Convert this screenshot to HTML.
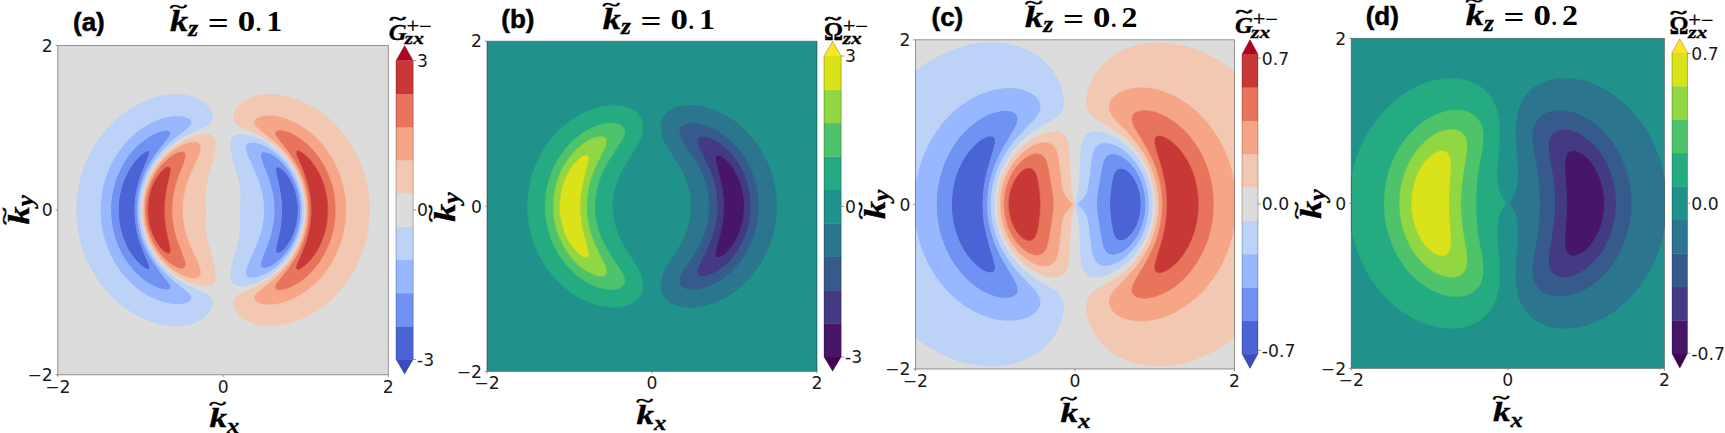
<!DOCTYPE html>
<html><head><meta charset="utf-8"><title>figure</title>
<style>html,body{margin:0;padding:0;background:#fff}svg{display:block}</style></head>
<body>
<svg width="1725" height="433" viewBox="0 0 1725 433">
<rect width="1725" height="433" fill="#fff"/>
<g id="panel-a">
<clipPath id="clip-a"><rect x="57.8" y="45.4" width="330.5" height="329.4"/></clipPath>
<g clip-path="url(#clip-a)">
<rect x="57.8" y="45.4" width="330.5" height="329.4" fill="#dddcdc"/>
<path fill="#4b64d5" stroke="#4b64d5" stroke-width="0.5" fill-rule="evenodd" d="M146.6,269 147.7,269.3 148.7,269.4 149.5,268.8 149.7,267.7 149.5,266.7 148.6,263.6 144.1,253.3 140.9,245.1 138.9,238.9 137.8,234.8 136.7,229.7 135.5,222.5 134.9,215.2 134.7,208 135,202.9 135.6,196.7 136.7,190.5 137.8,185.4 139.9,178.2 142.1,172 148.9,155.5 149.7,152.5 149.5,151.4 148.7,150.8 147.7,150.9 146.6,151.2 144.6,152.2 141.5,154.4 138.4,157.3 135.3,160.7 132.2,164.7 129.4,168.9 127.2,173 125.2,177.2 123.5,181.3 121.8,186.3 120.7,190.5 119.8,194.8 119,199.8 118.6,203.9 118.4,209.1 118.5,214.2 118.8,218.3 119.4,223.5 120.2,227.6 121.5,232.7 122.8,236.9 126,244.7 128,248.8 130.1,252.3 132.2,255.5 135.3,259.5 138.4,262.9 141.5,265.8 144.6,268ZM276.8,253 277.8,253.3 278.8,253.1 280.9,252 283,250.4 285,248.3 287.1,245.7 289.2,242.7 291.2,239.2 293.3,234.8 294.3,232.2 296.4,225.3 297.6,218.3 298.1,211.1 298.1,207 297.8,202.9 296.6,195.7 295.3,191.1 294.3,188 292.2,183.1 289.2,177.5 287.1,174.5 285,171.9 283,169.8 280.9,168.2 278.8,167.1 277.8,166.9 276.8,167.2 276.2,167.9 275.9,168.9 275.9,171 276.6,175.1 279.4,187.5 280.6,194.7 281.5,202.9 281.8,211.1 281.5,218.3 280.5,226.6 279.4,232.7 276,248.2 275.9,251.3 276.2,252.3Z"/>
<path fill="#6f92f3" stroke="#6f92f3" stroke-width="0.5" fill-rule="evenodd" d="M163.1,289.5 166.2,289.8 168.3,289.6 169.1,289.4 170.4,288.3 170.6,287.3 170.5,286.3 169.6,284.2 168.3,282.2 158.5,269.8 153.4,262.6 149,255.4 144.9,247.2 142.8,242 141.1,236.9 140,232.7 138.8,227.6 137.9,222.5 137.5,218.3 137.1,213.2 137.1,208 137.8,198.8 139.2,190.5 140.2,186.4 141.8,181.3 143.2,177.2 145.4,172 149,164.8 153.4,157.6 158.5,150.4 168.3,138 170.1,135 170.6,132.9 170.4,131.8 169.1,130.8 168.3,130.6 166.2,130.4 162.1,130.9 157,132.6 151.8,135 145.6,138.9 140.4,142.9 135.7,147.3 131.1,152.3 127.1,157.6 123.7,162.7 120.4,168.9 117.6,175.1 115.3,181.3 113.3,188.5 112,194.7 111.1,201.9 110.8,208 110.9,215.2 111.4,221.4 112.4,227.6 114.1,234.8 116,241 118.4,247.2 121.4,253.3 125,259.5 129.1,265.3 133.2,270.3 137.8,275 142.5,279 147.7,282.7 152.8,285.7 158,288ZM146,268.8 143.5,267.3 140.4,264.9 137.3,261.9 135.3,259.5 132.2,255.5 130.1,252.3 127.7,248.2 125.7,244.1 123.9,240 122.4,235.8 121.2,231.7 120,226.6 119.3,222.5 118.7,217.3 118.4,213.2 118.4,208 118.7,202.9 119.1,198.8 119.8,194.7 120.9,189.5 122.4,184.4 123.9,180.3 125.7,176.1 127.7,172 130.1,167.9 132.9,163.8 135.3,160.7 138.4,157.3 141.5,154.4 144.6,152.2 146.6,151.2 147.7,150.9 148.7,150.8 149.5,151.4 149.7,152.5 148.9,155.5 142.1,172 139.9,178.2 137.8,185.4 136.7,190.5 135.6,196.7 135,202.9 134.7,208 134.9,215.2 135.5,222.5 136.7,229.7 137.8,234.8 138.9,238.9 140.9,245.1 144.1,253.3 148.6,263.6 149.5,266.7 149.7,267.7 149.5,268.8 148.7,269.4 147.7,269.3ZM262.3,267.8 263.3,268.2 264.4,268.3 267.5,267.7 270.6,266.4 274.7,264 277.8,261.6 281.9,257.8 286.1,253.1 289.2,248.7 292.2,243.5 294.3,239.3 296.4,234.2 297.4,231.1 298.6,226.6 299.6,221.4 300.3,216.3 300.5,211.1 300.4,206 299.9,200.8 299.3,196.7 298.1,191.6 296.4,186 294.5,181.3 292.2,176.7 290.2,173.1 288.1,169.9 285,165.8 281.9,162.4 277.8,158.6 273.7,155.5 270.6,153.8 267.5,152.5 264.4,151.9 263.3,152 262.3,152.4 261.2,153.5 260.8,155.5 261,157.6 262.5,162.7 268.5,178.3 270.1,183.3 271.5,188.5 272.6,193.6 273.6,199.8 274.1,206 274.2,211.1 274,216.3 273.5,221.4 272.6,226.6 271.3,232.7 268.5,241.9 262.5,257.5 261,262.6 260.8,264.7 260.9,265.7 261.3,266.8ZM276.2,252.3 275.9,250.2 276,248.2 279.4,232.7 280.5,226.6 281.4,219.4 281.8,212.2 281.6,203.9 280.6,194.7 279.4,187.5 276.6,175.1 275.9,171 275.9,168.9 276.2,167.9 276.8,167.2 277.8,166.9 278.8,167.1 280.9,168.2 283,169.8 285,171.9 287.1,174.5 289.2,177.5 292.2,183.1 294.3,188 295.3,191.1 296.6,195.7 297.8,202.9 298.1,207 298.1,211.1 297.6,218.3 296.4,225.3 294.3,232.2 293.3,234.8 291.2,239.2 289.2,242.7 287.1,245.7 285,248.3 283,250.4 280.9,252 278.8,253.1 277.8,253.3 276.8,253Z"/>
<path fill="#97b8ff" stroke="#97b8ff" stroke-width="0.5" fill-rule="evenodd" d="M170.4,303.9 174.5,304.3 178.6,304.4 182.8,303.9 185.9,303.2 189,301.8 190.3,300.7 191.1,299.7 191.5,298.6 191.6,297.6 191.4,296.6 190.3,294.5 187.3,291.4 172.4,279.5 168.3,275.8 164.2,271.7 160,267 156.5,262.6 153.6,258.5 150.5,253.3 147.3,247.2 145,242 142.8,235.8 141.2,229.7 140,223.5 139.2,217.3 138.9,212.2 139,206 139.5,199.8 140.3,194.7 141.7,188.5 143.2,183.3 145,178.2 147.3,173 149.9,167.9 153,162.7 155.9,158.4 159,154.4 162.1,150.8 166.2,146.4 173.5,139.8 187.3,128.8 189.5,126.7 191,124.7 191.6,122.6 191.5,121.6 191.1,120.5 190.3,119.5 189.1,118.5 187.1,117.5 184.8,116.7 181.7,116.1 178.6,115.8 172.4,116.1 168.3,116.7 165.2,117.4 158,119.6 150.8,122.8 143.5,127 137.3,131.4 130.9,137 125,143.2 120,149.4 115.1,156.6 111.2,163.8 107.9,171 104.9,179.2 102.7,187.5 101.3,195.7 100.4,205 100.3,214.2 101,222.5 102.5,231.7 104.6,240 107.1,247.2 110.6,255.4 114.5,262.6 119.2,269.8 124.1,276 130.1,282.4 136.3,287.9 142.5,292.5 149.7,296.8 157,300.2 163.1,302.3ZM162.6,289.4 158,288 152.8,285.7 147.7,282.7 142.5,279 137.8,275 133.2,270.3 129.1,265.3 125,259.5 121.4,253.3 118.4,247.2 116,241 114.1,234.8 112.4,227.6 111.4,221.4 110.9,215.2 110.8,208 111.1,201.9 112,194.7 113.3,188.5 115.3,181.3 117.6,175.1 120.4,168.9 123.7,162.7 127.1,157.6 131.1,152.3 135.7,147.3 140.4,142.9 145.6,138.9 151.8,135 157,132.6 162.1,130.9 166.2,130.4 168.3,130.6 169.1,130.8 170.4,131.8 170.6,132.9 170.1,135 168.3,138 158.5,150.4 153.4,157.6 149,164.8 145.4,172 143.2,177.2 141.8,181.3 140.2,186.4 139.2,190.5 137.8,198.8 137.1,208 137.1,213.2 137.5,218.3 137.9,222.5 138.8,227.6 140,232.7 141.1,236.9 142.8,242 144.9,247.2 149,255.4 153.4,262.6 158.5,269.8 168.3,282.2 169.6,284.2 170.5,286.3 170.6,287.3 170.4,288.3 169.1,289.4 168.3,289.6 166.2,289.8ZM248.9,277.5 249.9,277.8 252,278 256.1,277.6 261.3,276 266.4,273.7 271.6,270.5 276.8,266.6 280.9,262.8 285,258.3 289.2,252.9 292.2,248 295.3,242 297.4,237.1 299.5,230.9 301,224.5 301.9,218.3 302.3,212.2 302.2,206 301.7,199.8 300.5,193.4 298.9,187.5 296.7,181.3 294.3,176.1 291.2,170.5 288.1,165.9 285,161.9 280.9,157.4 276.8,153.6 271.6,149.7 266.4,146.5 261.4,144.2 257.1,142.9 253,142.2 250.9,142.3 248.9,142.7 247.8,143.2 246.8,144.2 246.1,145.2 245.8,146.3 245.8,149.4 246.5,152.5 247.6,155.5 256.2,175.1 258.2,180.2 260.3,186.4 262,193.6 263.1,199.8 263.6,206 263.7,212.2 263.3,217.9 262.6,223.5 261.3,229.7 259.9,234.8 258.2,240 256.1,245.5 248,263.6 246.8,266.7 246,269.8 245.7,272.9 246.1,275 246.8,276 247.8,277ZM262.1,267.7 261.2,266.7 260.9,265.7 260.8,264.7 261,262.6 262.5,257.5 268.5,241.9 271.3,232.7 272.4,227.6 273.3,222.5 273.9,217.3 274.2,212.2 274.1,207 273.7,200.8 272.8,194.7 271.6,188.8 268.8,179.2 262.5,162.7 261,157.6 260.8,155.5 261.2,153.5 262.3,152.4 263.3,152 264.4,151.9 267.5,152.5 270.6,153.8 273.7,155.5 277.8,158.6 281.9,162.4 285,165.8 288.1,169.9 290.2,173.1 292.2,176.7 294.5,181.3 296.4,186 298.1,191.6 299.3,196.7 299.9,200.8 300.4,206 300.5,211.1 300.3,216.3 299.6,221.4 298.6,226.6 297.4,231.1 295.3,236.9 293.3,241.5 291.2,245.4 288.1,250.3 285,254.4 280.9,258.8 277.8,261.6 273.7,264.7 270.6,266.4 267.4,267.7 264.4,268.3 263.3,268.2Z"/>
<path fill="#bcd2f7" stroke="#bcd2f7" stroke-width="0.5" fill-rule="evenodd" d="M169.3,325.4 173.5,325.7 177.6,325.8 181.7,325.5 185.9,325 190,324.1 193.1,323.2 196.2,322 199.3,320.5 202.4,318.6 204.5,317 206.5,315.1 208.6,312.7 210.4,309.9 211.4,307.9 212.4,304.8 212.6,302.7 212.4,300.7 211.5,298.6 209.8,296.6 208.4,295.5 204.8,293.5 190,286.8 185.9,284.6 180.7,281.6 175.5,278 170.4,274 166.2,270.2 162.1,266 158,261 154.7,256.4 151.5,251.3 148.8,246.1 146.5,241 144.3,234.8 142.9,229.7 141.6,223.5 140.8,216.3 140.6,208 141.2,199.8 142.4,192.6 144.3,185.4 147.4,177.2 150.9,170 154.9,163.5 159,157.9 163.1,153.1 168.3,148 173.5,143.7 179.7,139.3 185.9,135.6 192.1,132.4 204.8,126.7 208.4,124.7 210.8,122.6 211.5,121.6 212.4,119.5 212.6,117.5 212.4,115.4 211.8,113.3 210.7,110.7 209.1,108.2 207.6,106.2 205.5,104.1 203.4,102.4 201.4,100.9 198.3,99.2 195.2,97.8 192.1,96.7 185.9,95.2 178.6,94.5 174.5,94.4 169.3,94.8 165.2,95.3 160,96.3 155.9,97.3 150.8,98.9 146.6,100.4 141.5,102.7 137.3,104.7 132.2,107.7 123.9,113.2 119.8,116.5 115.6,120 108.4,127.2 101.9,135 98.8,139.1 95.4,144.2 90.1,153.5 85.9,162.7 83.9,167.9 82.2,173 80.7,178.2 79.2,184.4 77.5,194.7 76.7,205 76.6,211.1 76.7,216.3 77.6,226.6 79.5,236.9 82.2,247.2 83.9,252.3 85.9,257.5 90.1,266.7 95.4,276 98.8,281.1 101.9,285.2 108.4,293 115.6,300.2 119.8,303.7 123.9,307 132.2,312.5 137.3,315.5 141.5,317.5 149.7,320.9 154.9,322.6 160,323.9 165.2,324.9ZM169.9,303.8 166.2,303.1 162.1,302 154.9,299.3 147.7,295.7 141.5,291.8 135.3,287.1 129.1,281.4 123.2,275 118.5,268.8 113.9,261.6 110.2,254.4 106.7,246.1 104,237.9 102.1,229.7 100.9,221.4 100.3,213.2 100.4,205 101.3,195.7 102.7,187.5 104.9,179.2 107.9,171 111.2,163.8 115.1,156.6 120,149.4 125,143.2 130.9,137 137.3,131.4 143.5,127 150.8,122.8 158,119.6 165.2,117.4 168.3,116.7 172.4,116.1 178.6,115.8 181.7,116.1 184.8,116.7 187.1,117.5 189.1,118.5 190.3,119.5 191.1,120.5 191.5,121.6 191.6,122.6 191,124.7 189.5,126.7 187.3,128.8 173.5,139.8 166.2,146.4 162.1,150.8 159,154.4 155.9,158.4 153,162.7 149.9,167.9 147.3,173 145,178.2 143.2,183.3 141.7,188.5 140.3,194.7 139.5,199.8 139,206 138.9,212.2 139.2,217.3 140,223.5 141.2,229.7 142.8,235.8 145,242 147.3,247.2 150.5,253.3 153.6,258.5 156.5,262.6 160,267 164.2,271.7 168.3,275.8 172.4,279.5 187.3,291.4 190.3,294.5 191.4,296.6 191.6,297.6 191.5,298.6 191.1,299.7 190.3,300.7 189,301.8 185.9,303.2 182.8,303.9 178.6,304.4 174.5,304.3ZM236.5,285.4 238.5,285.8 240.6,285.9 243.7,285.7 246.8,285.2 253,283.6 259.2,281.2 265.4,278 271.6,274 277.8,269 283,263.9 287.1,259.1 291.2,253.3 294.8,247.2 297.7,241 300.4,233.8 302,227.6 303.3,220.4 303.9,213.2 303.9,206 303.2,198.8 301.8,191.6 300,185.4 297.4,178.4 294.3,172.1 291.2,166.9 287.1,161.1 281.9,155.2 276.8,150.3 271.6,146.2 265.4,142.2 259.2,139 253,136.6 246.8,135 241.6,134.4 238.5,134.4 236.5,134.8 234.4,135.6 233.4,136.3 232.3,137.4 231.4,139.1 230.8,141.1 230.6,143.2 230.7,147.3 231.7,153.5 233.1,159.7 237.2,174.1 238.8,180.2 240.1,187.5 240.7,193.6 240.7,198.8 240.1,210.1 240.7,224.5 240.2,231.7 239.4,236.9 238.3,242 232.1,264.7 231.1,269.8 230.6,275 230.8,279.1 231.3,280.9 231.9,282.2 232.6,283.2 233.8,284.2ZM247.9,277 246.7,276 246.1,275 245.8,273.9 245.7,271.9 246.2,268.8 248.4,262.6 256.2,245.1 259.6,235.8 261.3,230 262.4,224.5 263.3,218.3 263.6,213.2 263.6,207 263.2,200.8 262.2,194.7 260.5,187.5 258.6,181.3 256.2,175.1 247.6,155.5 246.5,152.5 245.8,149.4 245.8,146.3 246.1,145.2 246.8,144.2 247.8,143.2 248.9,142.7 250.9,142.3 253,142.2 255.1,142.4 258.2,143.1 262.3,144.6 267.5,147.1 272.6,150.4 277.8,154.5 281.9,158.4 286.1,163.2 289.2,167.3 292.2,172.2 295.3,178.2 297.5,183.3 299.5,189.3 300.8,194.7 301.8,200.8 302.3,207 302.3,213.2 301.8,219.4 300.8,225.5 299.5,230.9 297.4,237.1 295.3,242 292.2,248 289.2,252.9 285,258.3 280.9,262.8 275.7,267.5 270.6,271.2 265.4,274.2 260.2,276.4 258.2,277.1 255.1,277.8 253,278 250.9,277.9 248.9,277.5Z"/>
<path fill="#f3c8b2" stroke="#f3c8b2" stroke-width="0.5" fill-rule="evenodd" d="M263.3,325.4 267.5,325.7 272.6,325.7 276.8,325.4 281.9,324.8 286.1,323.9 291.2,322.6 296.4,320.9 301.5,318.9 306.7,316.5 310.8,314.3 316,311.2 320.1,308.5 324.3,305.4 328.4,302 332.5,298.3 336.3,294.5 340,290.4 343.4,286.3 349.4,278 354.9,268.8 357.5,263.6 359.8,258.5 361.8,253.3 363.6,248.2 366.4,237.9 367.5,232.7 368.5,226.6 369.1,220.4 369.4,215.2 369.5,209.1 369.4,203.9 369,198.8 368.3,192.6 367.3,186.4 366.2,181.3 363.3,171 359.8,161.7 357.5,156.6 354.9,151.4 349.4,142.2 346.5,138 342.6,132.9 339.1,128.8 335.3,124.7 331.5,121 327.4,117.3 323.2,114 319.1,111 313.9,107.7 309.8,105.3 304.6,102.7 300.5,100.9 296.4,99.3 291.2,97.6 286.1,96.3 281.9,95.4 276.8,94.8 272.6,94.5 265.4,94.6 261.3,95.1 258.2,95.6 252,97.4 248.9,98.7 245.8,100.3 242.7,102.4 240.6,104.1 238.5,106.2 237,108.2 235.4,110.7 234.4,113 233.7,115.4 233.5,117.5 233.7,119.5 234.6,121.6 236.3,123.6 237.7,124.7 241.3,126.7 256.1,133.4 261.3,136.2 266.4,139.3 271.6,142.9 276.8,147.1 280.9,151 285,155.4 289.2,160.6 292.2,165 295.3,170.3 298.3,176.1 300.7,182.3 302.4,187.5 303.9,193.6 304.8,198.8 305.4,206 305.4,214.2 304.8,221.4 303.2,229.7 300.7,237.9 297.8,245.1 294.3,251.8 290.2,258.2 286.1,263.6 281.9,268.2 276.8,273.1 271.6,277.3 265.4,281.6 258.2,285.7 252,288.8 243.6,292.4 239.3,294.5 236.3,296.6 235.3,297.6 234.1,299.7 233.6,301.7 233.6,303.8 234,305.8 234.7,307.9 235.7,309.9 237,312 238.5,314 240.6,316.1 242.7,317.8 245.8,319.9 250.9,322.4 254,323.5 257.1,324.3ZM262.5,303.8 260.2,303.2 258.2,302.3 257,301.7 255.8,300.7 255,299.7 254.6,298.6 254.5,297.6 255.1,295.5 256.6,293.5 258.8,291.4 272.6,280.4 279.9,273.8 284,269.4 287.1,265.8 290.2,261.8 293.1,257.5 296.2,252.3 298.8,247.2 301.1,242 302.9,236.9 304.4,231.7 305.8,225.5 306.6,220.4 307.1,214.2 307.2,208 306.9,202.9 306.1,196.7 304.9,190.5 303.3,184.4 301.1,178.2 298.8,173 295.6,166.9 292.5,161.7 289.6,157.6 286.1,153.2 281.9,148.5 277.8,144.4 273.7,140.7 258.8,128.8 255.8,125.7 254.7,123.6 254.5,122.6 254.6,121.6 255,120.5 256.1,119.2 258.2,117.9 260.2,117 263.3,116.3 266.4,115.9 270.6,115.8 273.7,116.1 277.8,116.7 285,118.6 292.2,121.4 299.5,125.1 306.7,129.9 313,135 319.3,141.1 325.3,148.3 330.3,155.5 334.4,162.7 338.2,171 341.2,179.2 343.4,187.5 345,196.7 345.7,205 345.8,214.2 345.1,222.5 343.6,231.7 341.2,241 338.2,249.2 334.4,257.5 330.3,264.7 325.3,271.9 319.3,279.1 312.9,285.3 309.3,288.3 305.7,291.1 298.4,295.7 291.2,299.3 287.1,300.9 283,302.3 275.7,303.9 271.6,304.3 268.5,304.4 265.4,304.2ZM200.3,285.4 203.4,285.8 206.5,285.8 209.6,285.4 211.7,284.6 213.5,283.2 214.2,282.2 215,280.1 215.5,277 215.2,271.9 214.2,265.7 212.4,258.5 208.3,244.1 206.7,236.9 205.6,229.7 205.4,223.5 206,211.1 205.4,196.7 205.5,192.6 205.9,188.5 206.7,183.3 207.8,178.2 212.7,160.7 214.2,154.5 215.2,148.3 215.5,143.2 215.3,141.1 214.8,139.3 214.2,138 213.5,137 212.3,136 210.7,135.1 208.6,134.6 206.5,134.4 201.4,134.6 196.2,135.7 190,137.7 183.8,140.5 177.6,144.1 172.4,147.8 167.3,152.1 162.1,157.4 158,162.5 153.9,168.5 150.7,174.1 147.7,180.9 145.4,187.5 143.8,193.6 142.7,200.8 142.2,207 142.2,214.2 142.8,220.4 144.1,227.6 145.7,233.8 147.9,240 150.8,246.1 153.9,251.7 158,257.7 162.1,262.8 167.3,268.1 172.4,272.4 177.6,276.1 182.8,279.2 189,282.1 195.2,284.2ZM187.7,277 182.8,275.2 178.6,273.1 173.5,269.8 169.3,266.6 165.2,262.8 161.1,258.3 158,254.3 154.9,249.7 151.8,244.1 149.7,239.7 147.7,234.2 146.3,229.7 145.1,224.5 144.2,218.3 143.8,212.2 143.8,207 144.3,200.8 145.1,195.7 146.6,189.5 148.2,184.4 150.8,178.2 152.8,174.1 155.9,168.9 159,164.5 163.1,159.5 167.3,155.4 171.4,151.9 176.6,148.3 181.7,145.5 185.9,143.8 190,142.6 194.1,142.2 196.2,142.4 197.2,142.7 198.3,143.2 199.4,144.2 200,145.2 200.3,146.3 200.3,149.4 199.6,152.5 198.5,155.5 189.9,175.1 187.5,181.3 185.6,187.5 183.9,194.7 182.9,200.8 182.5,207 182.5,214.2 182.9,219.4 183.7,224.5 184.8,229.7 186.2,234.8 187.9,240 190,245.5 196.8,260.5 198.9,265.7 200.1,269.8 200.4,272.9 200,275 199.4,276 198.3,277 197.2,277.5 195.2,277.9 193.1,278 191,277.8Z"/>
<path fill="#f6a586" stroke="#f6a586" stroke-width="0.5" fill-rule="evenodd" d="M263.3,303.9 266.4,304.3 269.5,304.4 272.6,304.2 276.8,303.7 284,302 288.1,300.6 292.2,298.8 299.5,295.1 306.7,290.3 313,285.2 319.3,279.1 325.3,271.9 330.3,264.7 334.4,257.5 338.2,249.2 341.2,241 343.6,231.7 345.1,222.5 345.8,214.2 345.7,205 345,196.7 343.4,187.5 341.2,179.2 338.2,171 334.4,162.7 330.3,155.5 325.3,148.3 319.3,141.1 313,135 306.7,129.9 299.5,125.1 292.2,121.4 285,118.6 277.8,116.7 273.7,116.1 270.6,115.8 266.4,115.9 263.3,116.3 260.2,117 258.2,117.9 256.1,119.2 255,120.5 254.6,121.6 254.5,122.6 254.7,123.6 255.8,125.7 258.8,128.8 273.7,140.7 277.8,144.4 281.9,148.5 285.5,152.5 289.2,157 292.2,161.4 295,165.8 297.8,171 300.7,177.2 302.9,183.3 304.4,188.5 305.8,194.7 306.7,200.8 307.1,207 307.1,213.2 306.8,218.3 306,224.5 304.9,229.7 303.3,235.8 301.1,242 298.8,247.2 296.8,251.3 293.8,256.4 291.1,260.5 288,264.7 285,268.3 280.9,272.7 276.8,276.7 272.6,280.4 258.8,291.4 256.6,293.5 255.1,295.5 254.5,297.6 254.6,298.6 255,299.7 255.8,300.7 257.1,301.8 259,302.7ZM277,289.4 275.7,288.4 275.5,287.3 275.6,286.3 276.5,284.2 278.6,281.1 288.1,269.1 292.7,262.6 297.7,254.4 299.8,250.2 302,245.1 305,236.9 307.1,228.6 308.4,220.4 309,212.2 308.9,205 308,196.7 306.4,188.5 304,180.2 302,175.1 299.8,170 297.1,164.8 294.7,160.7 289.9,153.5 278.6,139.1 277.1,137 276,135 275.5,132.9 275.7,131.8 277,130.8 277.8,130.6 279.9,130.4 284,130.9 289.2,132.6 294.3,135 300.5,138.9 305.7,142.9 310.8,147.7 315.1,152.5 319.7,158.6 323.6,164.8 326.7,171 329.7,178.2 331.7,184.4 333.3,190.5 334.5,197.7 335.2,205 335.3,212.2 334.9,219.4 333.9,226.6 332.3,233.8 330.4,240 327.7,247.2 324.7,253.3 321.2,259.4 317.5,264.7 312.9,270.3 307.7,275.5 302.6,279.8 297.4,283.4 291.2,286.7 286.1,288.7 283,289.5 280.9,289.7 278.8,289.8ZM187.9,277.1 191,277.8 193.1,278 195.2,277.9 197.2,277.5 198.3,277 199.4,276 200,275 200.4,272.9 200.1,269.8 198.9,265.7 196.8,260.5 190,245.5 187.9,240 186.2,234.8 184.8,229.7 183.7,224.5 182.9,219.4 182.5,214.2 182.5,207 182.9,200.8 183.9,194.7 185.6,187.5 187.5,181.3 189.9,175.1 198.5,155.5 199.6,152.5 200.3,149.4 200.3,146.3 200,145.2 199.4,144.2 198.3,143.2 197.2,142.7 196.2,142.4 194.1,142.2 190,142.6 185.9,143.8 181.7,145.5 176.6,148.3 171.4,151.9 167.3,155.4 163.1,159.5 159,164.5 155.9,168.9 152.8,174.1 150.8,178.2 148.2,184.4 146.6,189.5 145.1,195.7 144.3,200.8 143.8,207 143.8,212.2 144.2,218.3 145.1,224.5 146.3,229.7 147.7,234.2 149.7,239.7 151.8,244.1 154.9,249.7 158,254.3 161.1,258.3 165.2,262.8 169.3,266.6 173.5,269.8 178.6,273.1 182.8,275.2ZM178.7,267.7 175.5,266.4 172.4,264.7 169.3,262.5 166.2,259.8 163.1,256.7 160,253.1 157,248.7 154.7,245.1 152.8,241.5 150.8,236.9 148.7,231.1 147.7,227.3 146.6,222.4 145.9,217.3 145.6,212.2 145.6,208 145.9,202.9 146.6,197.8 147.7,192.9 148.7,189.1 149.7,186 151.8,180.9 153.9,176.7 157,171.5 160,167.1 163.1,163.5 166.2,160.4 169.3,157.7 172.4,155.5 176.1,153.5 178.6,152.5 181.7,151.9 182.8,152 183.8,152.4 184.9,153.5 185.3,155.5 185.1,157.6 183.6,162.7 177.6,178.3 174.8,187.5 173.7,192.6 172.8,197.7 172.2,202.9 171.9,208 172,213.2 172.4,219.4 173.3,225.5 174.5,231.4 177.3,241 183.9,258.5 184.9,261.6 185.3,263.6 185.2,265.7 184.9,266.7 184,267.7 182.8,268.2 181.7,268.3Z"/>
<path fill="#e7745b" stroke="#e7745b" stroke-width="0.5" fill-rule="evenodd" d="M277.8,289.6 279.9,289.8 281.9,289.6 287.1,288.4 292.2,286.2 298.4,282.7 303.6,279 308.8,274.5 313.3,269.8 318.1,263.9 321.7,258.5 325.2,252.3 328.1,246.1 330.8,238.9 332.8,231.7 334.1,225.5 335,218.3 335.3,211.1 335.1,203.9 334.4,196.7 333.1,189.5 331.4,183.3 329.3,177.2 326.7,171 323.6,164.8 319.7,158.6 315.1,152.5 310.8,147.7 305.7,142.9 300.5,138.9 294.3,135 289.2,132.6 284,130.9 279.9,130.4 277.8,130.6 277,130.8 275.7,131.8 275.5,132.9 276,135 277.8,138 288.1,151.1 294.1,159.7 297.1,164.8 299.3,168.9 301.2,173 303.3,178.2 305.9,186.4 307.5,193.6 308.6,201.9 309,211.1 308.4,220.4 307.1,228.6 305,236.9 302,245.1 299.8,250.2 297.7,254.4 292.7,262.6 288.1,269.1 278.6,281.1 276.5,284.2 275.6,286.3 275.5,287.3 275.7,288.4 276.8,289.3ZM296.6,268.8 296.4,267.7 297.2,264.7 304,248.2 306.2,242 308.3,234.8 309.4,229.7 310.5,223.5 311.1,217.3 311.4,211.1 311.2,205 310.6,197.7 309.6,191.6 308.5,186.4 307.2,181.3 305.2,175.1 302,166.9 297.5,156.6 296.8,154.5 296.4,152.5 296.6,151.4 297.4,150.8 298.4,150.9 299.5,151.2 301.5,152.2 304.6,154.4 307.7,157.3 310.8,160.7 313.9,164.7 316.7,168.9 319.1,173.3 321.2,177.8 323,182.3 324.3,186.4 325.7,191.6 326.5,195.7 327.2,200.8 327.6,206 327.7,211.1 327.5,216.3 327,221.4 326.3,225.5 325.2,230.7 323.7,235.8 322.2,240 320.1,244.7 318.1,248.8 316,252.3 312.9,256.9 309.8,260.7 306.7,263.9 303.6,266.6 300.5,268.6 298.4,269.3 297.4,269.4ZM179.7,268 181.7,268.3 182.8,268.2 184,267.7 184.9,266.7 185.2,265.7 185.3,263.6 184.9,261.6 183.9,258.5 177.7,242 176,236.9 174.6,231.7 173.5,226.6 172.5,220.4 172,214.2 171.9,209.1 172.1,203.9 172.6,198.8 173.5,193.6 174.8,187.5 177.6,178.3 183.6,162.7 185.1,157.6 185.3,155.5 184.9,153.5 183.8,152.4 182.8,152 181.7,151.9 178.6,152.5 175.5,153.8 172.4,155.5 168.3,158.6 164.2,162.4 161.1,165.8 158,169.9 155.9,173.1 153.9,176.7 151.8,180.9 149.7,186 148.6,189.5 147.5,193.6 146.5,198.8 145.8,203.9 145.6,209.1 145.6,213.2 146.1,218.3 146.6,222.5 147.7,227.3 148.7,231.1 150.8,236.9 152.8,241.5 154.9,245.4 157,248.7 160,253.1 163.1,256.7 166.2,259.8 169.3,262.5 172.4,264.7 176.6,266.9ZM165.7,252.3 164.2,251.3 162.1,249.4 159,245.7 155.9,241 152.8,234.8 150.8,229.1 149.7,225.3 148.9,221.4 148.1,214.2 148,208 148.6,200.8 149.7,194.9 151.8,188 153.9,183.1 157,177.5 159,174.5 161.1,171.9 163.1,169.8 165.2,168.2 167.3,167.1 168.3,166.9 169.3,167.2 169.9,167.9 170.2,168.9 170.2,171 169.5,175.1 166.7,187.5 165.5,194.7 164.5,203.9 164.3,212.2 164.7,219.4 165.6,226.6 166.9,233.8 169.7,246.1 170.2,250.2 169.9,252.3 169.3,253 168.3,253.3 167.3,253.1Z"/>
<path fill="#c83836" stroke="#c83836" stroke-width="0.5" fill-rule="evenodd" d="M297.4,269.4 298.4,269.3 299.5,269 301.5,268 304.6,265.8 307.7,262.9 310.8,259.5 313.9,255.5 316.7,251.3 319.1,246.9 320.9,243 322.6,238.9 324.3,233.9 325.4,229.7 326.3,225.4 327.1,220.4 327.6,215.2 327.7,210.1 327.6,205 327.1,199.8 326.3,194.8 325.4,190.5 324.3,186.3 322.6,181.3 320.9,177.2 319.1,173.3 316.7,168.9 313.9,164.7 310.8,160.7 307.7,157.3 304.6,154.4 301.5,152.2 299.5,151.2 298.4,150.9 297.4,150.8 296.6,151.4 296.4,152.5 296.8,154.5 297.5,156.6 302,166.9 305.2,175.1 307.2,181.3 308.5,186.4 309.6,191.6 310.6,197.7 311.2,203.9 311.4,210.1 311.2,216.3 310.6,222.5 309.6,228.6 308.5,233.8 307.2,238.9 305.2,245.1 302,253.3 297.5,263.6 296.8,265.7 296.4,267.7 296.6,268.8ZM166.2,252.6 168.3,253.3 169.3,253 169.9,252.3 170.2,250.2 169.7,246.1 166.9,233.8 165.6,226.6 164.7,219.4 164.3,212.2 164.5,203.9 165.5,194.7 166.7,187.5 169.5,175.1 170.2,171 170.2,168.9 169.9,167.9 169.3,167.2 168.3,166.9 167.3,167.1 165.2,168.2 163.1,169.8 161.1,171.9 159,174.5 157,177.5 153.9,183.1 151.8,188 149.7,194.9 148.5,201.9 148,209.1 148.2,215.2 148.9,221.4 149.7,225.3 150.8,229.1 152.8,234.8 155.9,241 159,245.7 161.1,248.3 163.1,250.4Z"/>
</g>
<rect x="57.8" y="45.4" width="330.5" height="329.4" fill="none" stroke="#000" stroke-opacity="0.5" stroke-width="0.8"/>
<path d="M57.8,374.8v2.2" stroke="#7d7d7d" stroke-width="0.8"/>
<path d="M223.1,374.8v2.2" stroke="#7d7d7d" stroke-width="0.8"/>
<path d="M388.3,374.8v2.2" stroke="#7d7d7d" stroke-width="0.8"/>
<path d="M57.8,45.4h-2.2" stroke="#7d7d7d" stroke-width="0.8"/>
<path d="M57.8,210.1h-2.2" stroke="#7d7d7d" stroke-width="0.8"/>
<path d="M57.8,374.8h-2.2" stroke="#7d7d7d" stroke-width="0.8"/>
<text x="57.8" y="392.6" text-anchor="middle" font-family='"DejaVu Sans","Liberation Sans",sans-serif' font-size="17.2" fill="#1a1a1a">−2</text>
<text x="223.1" y="392.6" text-anchor="middle" font-family='"DejaVu Sans","Liberation Sans",sans-serif' font-size="17.2" fill="#1a1a1a">0</text>
<text x="388.3" y="392.6" text-anchor="middle" font-family='"DejaVu Sans","Liberation Sans",sans-serif' font-size="17.2" fill="#1a1a1a">2</text>
<text x="52.8" y="51.6" text-anchor="end" font-family='"DejaVu Sans","Liberation Sans",sans-serif' font-size="17.2" fill="#1a1a1a">2</text>
<text x="52.8" y="216.3" text-anchor="end" font-family='"DejaVu Sans","Liberation Sans",sans-serif' font-size="17.2" fill="#1a1a1a">0</text>
<text x="52.8" y="381" text-anchor="end" font-family='"DejaVu Sans","Liberation Sans",sans-serif' font-size="17.2" fill="#1a1a1a">−2</text>
<text x="73" y="30.5" font-family='"Liberation Sans","DejaVu Sans",sans-serif' font-size="26" font-weight="bold" stroke="#000" stroke-width="0.5">(a)</text>
<g transform="translate(170.8,30.9)"><text transform="translate(-0.8,0) scale(1.25,1.0)" font-family='"Liberation Serif","DejaVu Serif",serif' font-size="29" font-weight="bold" font-style="italic" stroke="#000" stroke-width="0.35">k</text><text transform="translate(-1,-17.8) scale(1.15,0.68)" font-family='"Liberation Serif","DejaVu Serif",serif' font-size="29.0" font-weight="bold" stroke="#000" stroke-width="0.4">~</text><text transform="translate(17.4,5.5) scale(1.15,1.0)" font-family='"Liberation Serif","DejaVu Serif",serif' font-size="22.04" font-weight="bold" font-style="italic" stroke="#000" stroke-width="0.35">z</text></g>
<text transform="translate(207.8,32.9) scale(1.27,1.0)" font-family='"Liberation Serif","DejaVu Serif",serif' font-size="29" font-weight="bold">=</text>
<text transform="translate(237.8,30.9) scale(1.2,1.0)" font-family='"Liberation Serif","DejaVu Serif",serif' font-size="29" font-weight="bold">0</text>
<text transform="translate(255.8,30.9) scale(0.75,0.75)" font-family='"Liberation Serif","DejaVu Serif",serif' font-size="29" font-weight="bold">.</text>
<text transform="translate(266.3,30.9) scale(1.1,1.0)" font-family='"Liberation Serif","DejaVu Serif",serif' font-size="29" font-weight="bold">1</text>
<g transform="translate(210.3,426.8)"><text transform="translate(-0.77,0) scale(1.25,1.0)" font-family='"Liberation Serif","DejaVu Serif",serif' font-size="28" font-weight="bold" font-style="italic" stroke="#000" stroke-width="0.35">k</text><text transform="translate(-0.97,-17.19) scale(1.15,0.68)" font-family='"Liberation Serif","DejaVu Serif",serif' font-size="28.0" font-weight="bold" stroke="#000" stroke-width="0.4">~</text><text transform="translate(16.8,6.08) scale(1.15,1.0)" font-family='"Liberation Serif","DejaVu Serif",serif' font-size="21.28" font-weight="bold" font-style="italic" stroke="#000" stroke-width="0.35">x</text></g>
<g transform="translate(28.9,223.7) rotate(-90)"><text transform="translate(-0.8,0) scale(1.25,1.0)" font-family='"Liberation Serif","DejaVu Serif",serif' font-size="29" font-weight="bold" font-style="italic" stroke="#000" stroke-width="0.35">k</text><text transform="translate(-1,-17.8) scale(1.15,0.68)" font-family='"Liberation Serif","DejaVu Serif",serif' font-size="29.0" font-weight="bold" stroke="#000" stroke-width="0.4">~</text><text transform="translate(17.4,4.1) scale(1.15,1.0)" font-family='"Liberation Serif","DejaVu Serif",serif' font-size="22.04" font-weight="bold" font-style="italic" stroke="#000" stroke-width="0.35">y</text></g>
<path d="M396,60.8L404.6,45.5L413.2,60.8Z" fill="#b40426"/>
<path d="M396,359.2L404.6,374L413.2,359.2Z" fill="#3b4cc0"/>
<rect x="396" y="326.28" width="17.2" height="33.52" fill="#4b64d5"/>
<rect x="396" y="293.06" width="17.2" height="33.52" fill="#6f92f3"/>
<rect x="396" y="259.83" width="17.2" height="33.52" fill="#97b8ff"/>
<rect x="396" y="226.61" width="17.2" height="33.52" fill="#bcd2f7"/>
<rect x="396" y="193.39" width="17.2" height="33.52" fill="#dddcdc"/>
<rect x="396" y="160.17" width="17.2" height="33.52" fill="#f3c8b2"/>
<rect x="396" y="126.94" width="17.2" height="33.52" fill="#f6a586"/>
<rect x="396" y="93.72" width="17.2" height="33.52" fill="#e7745b"/>
<rect x="396" y="60.50" width="17.2" height="33.52" fill="#c83836"/>
<path d="M396,60.5L404.6,45.5L413.2,60.5L413.2,359.5L404.6,374L396,359.5Z" fill="none" stroke="#000" stroke-opacity="0.45" stroke-width="0.6"/>
<path d="M413.2,60.5h3" stroke="#7d7d7d" stroke-width="0.8"/>
<text x="417" y="66.9" font-family='"DejaVu Sans","Liberation Sans",sans-serif' font-size="17.2" fill="#1a1a1a">3</text>
<path d="M413.2,210h3" stroke="#7d7d7d" stroke-width="0.8"/>
<text x="417" y="216.4" font-family='"DejaVu Sans","Liberation Sans",sans-serif' font-size="17.2" fill="#1a1a1a">0</text>
<path d="M413.2,359.5h3" stroke="#7d7d7d" stroke-width="0.8"/>
<text x="417" y="365.9" font-family='"DejaVu Sans","Liberation Sans",sans-serif' font-size="17.2" fill="#1a1a1a">-3</text>
<text transform="translate(388.7,39.6) scale(1.08,1.0)" font-family='"Liberation Serif","DejaVu Serif",serif' font-size="23" font-weight="bold" font-style="italic" stroke="#000" stroke-width="0.3">G</text>
<text transform="translate(389.7,23.8) scale(1.4,0.8)" font-family='"Liberation Serif","DejaVu Serif",serif' font-size="22" font-weight="bold" stroke="#000" stroke-width="0.8">~</text>
<text transform="translate(404.8,44.1) scale(1.3,1.0)" font-family='"Liberation Serif","DejaVu Serif",serif' font-size="16.5" font-weight="bold" font-style="italic" stroke="#000" stroke-width="0.3">zx</text>
<text transform="translate(406.4,32.5) scale(1.12,1.0)" font-family='"Liberation Serif","DejaVu Serif",serif' font-size="20" stroke="#000" stroke-width="0.3">+−</text>
</g>
<g id="panel-b">
<clipPath id="clip-b"><rect x="487" y="41.2" width="330" height="330.3"/></clipPath>
<g clip-path="url(#clip-b)">
<rect x="487" y="41.2" width="330" height="330.3" fill="#21918c"/>
<path fill="#481668" stroke="#481668" stroke-width="0.5" fill-rule="evenodd" d="M717,257.4 718,257.5 719,257.4 721.1,256.6 723.2,255.4 726.2,252.8 729.3,249.6 731.4,247.1 733.5,244.1 735.7,240.4 737.6,236.7 739.1,233.2 740.6,229.1 741.9,224.9 742.8,220.8 743.6,215.6 744.2,207.4 743.9,199.1 742.6,190.9 741.6,186.7 740.3,182.6 738.6,178.3 736.8,174.4 734.5,170.2 732.4,167.1 730.4,164.3 727.3,160.8 725.2,158.9 722.1,156.7 720.1,155.6 718,155.2 717,155.3 715.9,156.2 715.5,157.8 715.5,159.9 716.3,164 720.4,179.5 722.1,187.8 722.8,192.9 723.4,198.1 723.7,207.4 723.2,216.7 721.9,226 720.4,233.2 716.5,247.6 715.6,251.8 715.4,253.8 715.6,255.9 716.3,256.9Z"/>
<path fill="#443983" stroke="#443983" stroke-width="0.5" fill-rule="evenodd" d="M699.4,275.5 700.5,275.9 702.5,276.2 704.6,276.2 706.7,275.8 710.8,274.6 715.9,272.1 721.1,268.8 725.6,265.2 730.4,260.4 734.5,255.5 737.8,250.7 741.4,244.5 743.9,239.4 746.3,233.2 748.1,227 749.5,220.8 750.3,214.6 750.7,208.4 750.6,202.2 750.1,196 749.1,189.8 747.6,183.6 745.6,177.4 743.5,172.3 740.9,167.1 737.6,161.6 734.2,156.8 729.8,151.6 725.2,147.2 721.1,143.9 717,141.2 711.8,138.6 707.7,137.1 703.6,136.5 700.5,136.8 699.4,137.2 698.4,138 697.6,139.3 697.4,140.1 697.4,142.4 698.2,145.5 699.4,148.5 706.1,162 709.4,169.2 711.8,175.4 713.4,180.5 715.3,187.8 716.5,195 717.1,202.2 717.2,209.4 716.7,215.6 715.9,221.8 714.3,229.1 712.5,235.3 710.8,240 708.5,245.6 705.6,251.7 699.9,263.1 697.9,268.3 697.4,270.3 697.4,272.6 697.6,273.4 698.2,274.5ZM716.3,256.9 715.6,255.9 715.5,254.9 715.6,251.8 716.5,247.6 720.4,233.2 721.7,227 723.1,217.7 723.7,208.4 723.6,203.3 723.4,198.1 722.8,192.9 722.1,187.8 720.4,179.5 716.3,164 715.5,159.9 715.5,157.8 715.9,156.2 717,155.3 718,155.2 720.1,155.6 722.1,156.7 725.2,158.9 727.3,160.8 730.4,164.3 732.4,167.1 734.5,170.2 736.8,174.4 738.6,178.3 740.3,182.6 741.6,186.7 742.6,190.9 743.9,199.1 744.2,207.4 743.6,215.6 742.8,220.8 741.9,224.9 740.6,229.1 739.1,233.2 737.6,236.7 735.5,240.7 733.5,244.1 730.4,248.4 728.3,250.8 725.2,253.8 722.1,256 720.1,257.1 718,257.5 717,257.4Z"/>
<path fill="#375a8c" stroke="#375a8c" stroke-width="0.5" fill-rule="evenodd" d="M687.1,289.2 689.1,289.6 692.2,289.8 695.3,289.7 698.4,289.3 702.5,288.4 705.6,287.5 711.8,285.1 718,281.9 724.2,277.8 730.4,272.7 735.8,267.2 740.9,261.1 745.2,254.9 749.2,247.6 752.4,240.4 754.9,233.2 756.8,226 758.1,218.7 758.8,210.5 758.8,202.2 758.2,195 756.8,186.7 754.9,179.5 752.4,172.3 749.2,165.1 745.2,157.8 740.9,151.6 735.8,145.5 730.7,140.3 725.2,135.7 719,131.4 712.8,128.1 706.7,125.5 700.5,123.8 697.4,123.2 694.3,123 691.2,123 688.1,123.3 685,124.2 682.9,125.2 680.9,126.9 679.8,128.5 679.2,131 679.3,133.1 680.1,136.2 682,140.3 684.5,144.4 693.2,157.4 696.3,162.4 700.5,170.1 703.6,177.3 706,184.7 707.9,192.9 708.9,201.2 709,209.4 708.4,216.7 707.1,223.9 705.1,231.1 702.4,238.3 699.5,244.5 696.3,250.3 692.2,256.9 683.2,270.3 680.9,274.5 679.7,277.6 679.3,279.6 679.2,281.7 679.7,283.8 680.2,284.8 680.9,285.8 682.9,287.5 685,288.5ZM699.4,275.5 698.2,274.5 697.6,273.4 697.4,272.6 697.4,270.3 697.9,268.3 699.9,263.1 705.6,251.7 708.5,245.6 710.8,240 712.5,235.3 714.3,229.1 715.9,221.8 716.7,215.6 717.2,209.4 717.1,202.2 716.5,195 715.3,187.8 713.4,180.5 711.8,175.4 709.4,169.2 706.1,162 699.4,148.5 698.2,145.5 697.4,142.4 697.4,140.1 697.6,139.3 698.4,138 699.4,137.2 700.5,136.8 703.6,136.5 707.7,137.1 711.8,138.6 717,141.2 721.1,143.9 725.2,147.2 729.8,151.6 734.2,156.8 737.6,161.6 740.9,167.1 743.5,172.3 745.6,177.4 747.6,183.6 749.1,189.8 750.1,196 750.6,202.2 750.7,208.4 750.3,214.6 749.5,220.8 748.1,227 746.3,233.2 743.9,239.4 741.4,244.5 737.8,250.7 734.5,255.5 730.4,260.4 725.6,265.2 721.1,268.8 715.9,272.1 710.8,274.6 706.7,275.8 704.6,276.2 702.5,276.2 700.5,275.9Z"/>
<path fill="#2b758e" stroke="#2b758e" stroke-width="0.5" fill-rule="evenodd" d="M681.9,306.6 685,307 689.1,307.3 693.2,307.2 697.4,306.8 701.5,306.2 705.6,305.3 709.8,304.1 713.9,302.7 718,301 722.1,299 726.2,296.8 730.4,294.3 734.5,291.4 738.6,288.2 745.8,281.7 752.4,274.5 757.8,267.2 762.9,259 767,250.7 770.7,241.4 773.4,232.2 775.2,222.9 776.3,212.5 776.5,207.4 776.4,202.2 776.1,197.1 775.5,191.9 773.9,182.6 771.4,173.3 767.9,164 764,155.8 759.8,148.5 757.1,144.4 754,140.3 747.8,133.1 744.8,130 740.7,126.2 733.5,120.6 726.2,115.9 722.1,113.7 718,111.7 713.9,110 709.8,108.6 705.6,107.4 701.5,106.5 697.4,105.9 693.2,105.5 687.1,105.5 680.9,106.3 675.7,107.8 672.6,109.1 670.6,110.2 668.5,111.7 666.5,113.5 664.1,116.5 662.9,118.6 662.1,120.7 661.5,122.7 661.1,125.8 661.1,128.9 661.5,132 662.3,135.6 663.6,139.3 665,142.4 667.3,146.5 678.8,164.7 681.9,170.2 684,174.4 686.2,179.5 688.4,185.7 689.9,191.9 691,198.1 691.3,202.2 691.4,206.3 691.3,210.5 691,214.6 690.3,218.7 689.5,222.9 687.1,231 684,238.3 680.8,244.5 676.8,251.3 668.5,264.1 665,270.3 663.6,273.4 662.5,276.5 661.7,279.6 661.2,282.7 661.1,286.9 661.8,291 663.3,294.9 665.6,298.2 668.5,301 670.6,302.5 672.6,303.6 676.8,305.3ZM686.1,288.9 682.9,287.5 680.9,285.8 680.2,284.8 679.7,283.8 679.2,281.7 679.3,279.6 679.7,277.6 680.9,274.5 683.2,270.3 692.2,256.9 696.3,250.3 699.4,244.7 701.9,239.4 704.6,232.6 706.7,225.6 708.2,217.7 708.9,210.5 708.9,202.2 708.1,194 706.3,185.7 703.6,177.3 700.5,170.1 696.3,162.4 693.2,157.4 684.5,144.4 682,140.3 680.1,136.2 679.3,133.1 679.2,131 679.8,128.5 680.9,126.9 682.9,125.2 685,124.2 688.1,123.3 691.2,123 694.3,123 697.4,123.2 700.5,123.8 706.7,125.5 712.8,128.1 719,131.4 725.2,135.7 730.7,140.3 735.8,145.5 740.9,151.6 745.2,157.8 749.2,165.1 752.4,172.3 754.9,179.5 756.8,186.7 758.2,195 758.8,202.2 758.8,210.5 758.1,218.7 756.8,226 754.9,233.2 752.4,240.4 749.2,247.6 745.2,254.9 740.7,261.4 735.5,267.6 730.4,272.7 724.2,277.8 718,281.9 713.9,284.1 710.8,285.6 706.7,287.2 703.6,288.2 697.4,289.5 694.3,289.7 691.2,289.7 688.1,289.4Z"/>
<path fill="#25ab82" stroke="#25ab82" stroke-width="0.5" fill-rule="evenodd" d="M604.6,306.5 611.8,307.2 615.9,307.2 619,307 625.2,305.9 628.3,304.9 631.4,303.6 634.5,301.8 636.4,300.3 638.4,298.2 639.6,296.6 641.1,294.1 641.9,292 642.5,290 642.9,286.9 642.9,283.8 642.3,279.6 641.2,275.5 639.5,271.4 636.1,265.2 627.2,251.3 623.2,244.5 620,238.3 617.4,232.2 615.3,226 613.8,219.8 612.8,212.5 612.6,206.3 612.8,200.2 613.7,194 615,187.8 617,181.6 620,174.4 623.2,168.2 627.2,161.4 636.1,147.5 638.5,143.4 639.9,140.3 641.5,136.2 642.5,132 642.9,127.9 642.7,123.8 641.5,119.6 639.9,116.5 637.6,113.5 634.5,110.9 630.3,108.6 626.2,107.1 622.1,106.1 616.9,105.5 609.7,105.6 605.6,106 601.5,106.7 597.3,107.7 593.2,108.9 585,112.2 577.8,115.9 573.6,118.4 569.5,121.3 562.6,126.9 556.2,133.1 550,140.3 544.8,147.5 540,155.8 536.1,164 533,172.3 530.6,180.5 528.8,189.8 527.8,199.1 527.5,208.4 528.1,217.7 529.5,227 531.7,236.3 534.8,245.6 538.4,253.8 542.9,262.1 547.6,269.3 553.4,276.5 559.2,282.7 566.4,289 573.6,294.3 580.8,298.5 588.1,301.8 596.3,304.7 600.4,305.7ZM603.6,288.9 597.3,287.2 591.2,284.6 585,281.3 579.8,277.8 574.4,273.4 569.1,268.3 564.7,263.1 560.2,256.9 556.4,250.7 553.3,244.5 550.4,237.3 548.2,230.1 546.6,222.9 545.6,215.6 545.1,208.4 545.3,201.2 545.9,194 547.2,186.7 549.1,179.5 551.6,172.3 554.8,165.1 558.2,158.9 562.3,152.7 567.3,146.5 572.2,141.3 577.8,136.5 582.9,132.7 589.1,129.1 595.3,126.3 601.5,124.3 607.7,123.1 612.8,123 615.9,123.3 618,123.8 620.4,124.8 622.1,125.9 623.8,127.9 624.6,130 624.8,132 624.6,134.1 623.5,137.2 621.4,141.3 610.8,157.4 606.6,164.2 603.5,170.2 600.4,177.4 598.6,182.6 597.4,186.7 595.8,195 595,203.3 595,207.4 595.2,212.5 596.1,219.8 597.3,225.6 599.3,232.2 601.6,238.3 604.6,244.7 608.5,251.8 611.8,256.9 619.5,268.3 622.6,273.4 624.3,277.6 624.7,279.6 624.8,281.7 624.3,283.8 623.1,285.8 621.1,287.5 618,288.9 614.9,289.6 611.8,289.8 607.7,289.6Z"/>
<path fill="#4ec36b" stroke="#4ec36b" stroke-width="0.5" fill-rule="evenodd" d="M604.6,289.1 608.7,289.7 612.8,289.7 615.9,289.4 619,288.5 621.1,287.5 623.1,285.8 624.3,283.8 624.8,281.7 624.7,279.6 624.3,277.6 622.6,273.4 619.5,268.3 611.8,256.9 608.5,251.8 604.6,244.7 601.6,238.3 599.3,232.2 597.3,225.6 596.1,219.8 595.2,212.5 595,207.4 595,203.3 595.8,195 597.4,186.7 598.6,182.6 600.4,177.4 603.5,170.2 606.6,164.2 610.8,157.4 621.4,141.3 623.5,137.2 624.6,134.1 624.8,132 624.6,130 623.8,127.9 622.1,125.9 620.4,124.8 618,123.8 615.9,123.3 612.8,123 607.7,123.1 601.5,124.3 595.3,126.3 589.1,129.1 582.9,132.7 576.9,137.2 571.6,141.9 566.4,147.5 561.6,153.7 557.6,159.9 554.3,166.1 551.6,172.3 549.1,179.5 547.2,186.7 545.9,194 545.2,202.2 545.2,209.4 545.7,216.7 546.8,223.9 548.5,231.1 550.4,237.3 553.3,244.5 557,251.8 560.9,258 565.4,264 570.1,269.3 575.6,274.5 580.8,278.5 586,281.9 592.2,285.1 598.4,287.5ZM596.1,275.5 591.2,273.7 587,271.5 582.9,268.8 578.8,265.5 574.7,261.5 571.5,258 568.3,253.8 564.9,248.7 562,243.5 559.7,238.3 557.7,233.2 555.9,227 554.7,221.8 553.8,215.6 553.4,209.4 553.4,203.3 553.8,197.1 554.7,190.9 555.9,185.7 557.7,179.5 559.7,174.4 562,169.2 564.9,164 568.3,158.9 572.3,153.7 576.2,149.6 580.8,145.5 585,142.5 590.1,139.5 594.2,137.8 598.4,136.7 601.5,136.5 603.5,136.8 604.6,137.2 605.8,138.2 606.4,139.3 606.7,140.3 606.7,141.3 606.4,143.4 605.8,145.5 604.6,148.5 598.4,161 595.3,167.6 593.2,172.7 591.5,177.4 589.7,183.6 588.1,190.9 587.3,197.1 586.8,203.3 586.9,210.5 587.5,217.7 588.7,224.9 590.6,232.2 592.2,237.3 594.6,243.5 597.9,250.7 604.6,264.2 605.8,267.2 606.6,270.3 606.7,272.4 606.4,273.4 605.8,274.5 604.6,275.5 602.5,276.1 600.4,276.2 598.4,276Z"/>
<path fill="#90d743" stroke="#90d743" stroke-width="0.5" fill-rule="evenodd" d="M596.3,275.6 599.4,276.2 601.5,276.2 603.5,275.9 604.6,275.5 605.8,274.5 606.4,273.4 606.7,272.4 606.6,270.3 605.8,267.2 604.6,264.2 597.9,250.7 594.6,243.5 592.2,237.3 590.6,232.2 588.7,224.9 587.5,217.7 586.9,210.5 586.8,203.3 587.3,197.1 588.1,190.9 589.7,183.6 591.5,177.4 593.2,172.7 595.3,167.6 598.4,161 604.6,148.5 605.8,145.5 606.4,143.4 606.7,141.3 606.7,140.3 606.4,139.3 605.8,138.2 604.6,137.2 603.5,136.8 601.5,136.5 598.4,136.7 594.2,137.8 590.1,139.5 585,142.5 580.8,145.5 576.2,149.6 572.3,153.7 568.3,158.9 564.9,164 562,169.2 559.7,174.4 557.7,179.5 555.9,185.7 554.7,190.9 553.8,197.1 553.4,203.3 553.4,209.4 553.8,215.6 554.7,221.8 555.9,227 557.7,233.2 559.7,238.3 562,243.5 564.9,248.7 568.3,253.8 571.6,258.1 575.7,262.6 579.6,266.2 583.9,269.5 588.1,272.1 592.2,274.1ZM583.6,256.9 581.9,256 578.8,253.8 574.7,249.6 572.6,247.1 570.1,243.5 568.3,240.4 566.2,236.3 563.3,228.9 562.1,224.9 561.2,220.8 560,212.5 559.8,204.3 560.5,196 561.2,191.9 562.1,187.8 564.5,180.5 567.7,173.3 571.6,167.1 573.6,164.3 576.7,160.8 578.8,158.9 581.9,156.7 583.9,155.6 586,155.2 587,155.3 588.1,156.2 588.5,157.8 588.5,159.9 587.7,164 583.4,180.5 581.8,188.8 581,194 580.6,199.1 580.3,204.3 580.4,209.4 581,218.7 582.3,227 584.1,235.3 588,249.7 588.6,253.8 588.4,255.9 587.7,256.9 587,257.4 586,257.5Z"/>
<path fill="#dae319" stroke="#dae319" stroke-width="0.5" fill-rule="evenodd" d="M583.9,257.1 586,257.5 587,257.4 587.7,256.9 588.4,255.9 588.5,254.9 588.5,252.8 587.7,248.7 583.6,233.2 581.9,224.9 581.2,219.8 580.6,214.6 580.4,209.4 580.3,204.3 580.9,195 582.3,185.7 584.1,177.4 588,163 588.5,159.9 588.5,157.8 588.1,156.2 587,155.3 586,155.2 583.9,155.6 581.9,156.7 578.8,158.9 576.7,160.8 573.6,164.3 571.6,167.1 569.5,170.2 567.4,173.9 564.3,180.9 563,184.7 561.9,188.8 561,192.9 560.4,197.1 559.8,205.3 560.1,213.6 561.2,221.1 563.4,229.1 564.9,233.2 566.4,236.7 568.5,240.7 570.5,244.1 574.7,249.6 577.8,252.8 579.8,254.6 581.9,256Z"/>
</g>
<rect x="487" y="41.2" width="330" height="330.3" fill="none" stroke="#000" stroke-opacity="0.5" stroke-width="0.8"/>
<path d="M487,371.5v2.2" stroke="#7d7d7d" stroke-width="0.8"/>
<path d="M652,371.5v2.2" stroke="#7d7d7d" stroke-width="0.8"/>
<path d="M817,371.5v2.2" stroke="#7d7d7d" stroke-width="0.8"/>
<path d="M487,41.2h-2.2" stroke="#7d7d7d" stroke-width="0.8"/>
<path d="M487,206.3h-2.2" stroke="#7d7d7d" stroke-width="0.8"/>
<path d="M487,371.5h-2.2" stroke="#7d7d7d" stroke-width="0.8"/>
<text x="487" y="389.3" text-anchor="middle" font-family='"DejaVu Sans","Liberation Sans",sans-serif' font-size="17.2" fill="#1a1a1a">−2</text>
<text x="652" y="389.3" text-anchor="middle" font-family='"DejaVu Sans","Liberation Sans",sans-serif' font-size="17.2" fill="#1a1a1a">0</text>
<text x="817" y="389.3" text-anchor="middle" font-family='"DejaVu Sans","Liberation Sans",sans-serif' font-size="17.2" fill="#1a1a1a">2</text>
<text x="482" y="47.4" text-anchor="end" font-family='"DejaVu Sans","Liberation Sans",sans-serif' font-size="17.2" fill="#1a1a1a">2</text>
<text x="482" y="212.5" text-anchor="end" font-family='"DejaVu Sans","Liberation Sans",sans-serif' font-size="17.2" fill="#1a1a1a">0</text>
<text x="482" y="377.7" text-anchor="end" font-family='"DejaVu Sans","Liberation Sans",sans-serif' font-size="17.2" fill="#1a1a1a">−2</text>
<text x="501.3" y="28" font-family='"Liberation Sans","DejaVu Sans",sans-serif' font-size="26" font-weight="bold" stroke="#000" stroke-width="0.5">(b)</text>
<g transform="translate(603.5,28.8)"><text transform="translate(-0.8,0) scale(1.25,1.0)" font-family='"Liberation Serif","DejaVu Serif",serif' font-size="29" font-weight="bold" font-style="italic" stroke="#000" stroke-width="0.35">k</text><text transform="translate(-1,-17.8) scale(1.15,0.68)" font-family='"Liberation Serif","DejaVu Serif",serif' font-size="29.0" font-weight="bold" stroke="#000" stroke-width="0.4">~</text><text transform="translate(17.4,5.5) scale(1.15,1.0)" font-family='"Liberation Serif","DejaVu Serif",serif' font-size="22.04" font-weight="bold" font-style="italic" stroke="#000" stroke-width="0.35">z</text></g>
<text transform="translate(640.5,30.8) scale(1.27,1.0)" font-family='"Liberation Serif","DejaVu Serif",serif' font-size="29" font-weight="bold">=</text>
<text transform="translate(670.5,28.8) scale(1.2,1.0)" font-family='"Liberation Serif","DejaVu Serif",serif' font-size="29" font-weight="bold">0</text>
<text transform="translate(688.5,28.8) scale(0.75,0.75)" font-family='"Liberation Serif","DejaVu Serif",serif' font-size="29" font-weight="bold">.</text>
<text transform="translate(699,28.8) scale(1.1,1.0)" font-family='"Liberation Serif","DejaVu Serif",serif' font-size="29" font-weight="bold">1</text>
<g transform="translate(637.3,424)"><text transform="translate(-0.77,0) scale(1.25,1.0)" font-family='"Liberation Serif","DejaVu Serif",serif' font-size="28" font-weight="bold" font-style="italic" stroke="#000" stroke-width="0.35">k</text><text transform="translate(-0.97,-17.19) scale(1.15,0.68)" font-family='"Liberation Serif","DejaVu Serif",serif' font-size="28.0" font-weight="bold" stroke="#000" stroke-width="0.4">~</text><text transform="translate(16.8,6.08) scale(1.15,1.0)" font-family='"Liberation Serif","DejaVu Serif",serif' font-size="21.28" font-weight="bold" font-style="italic" stroke="#000" stroke-width="0.35">x</text></g>
<g transform="translate(454.7,221) rotate(-90)"><text transform="translate(-0.8,0) scale(1.25,1.0)" font-family='"Liberation Serif","DejaVu Serif",serif' font-size="29" font-weight="bold" font-style="italic" stroke="#000" stroke-width="0.35">k</text><text transform="translate(-1,-17.8) scale(1.15,0.68)" font-family='"Liberation Serif","DejaVu Serif",serif' font-size="29.0" font-weight="bold" stroke="#000" stroke-width="0.4">~</text><text transform="translate(17.4,4.1) scale(1.15,1.0)" font-family='"Liberation Serif","DejaVu Serif",serif' font-size="22.04" font-weight="bold" font-style="italic" stroke="#000" stroke-width="0.35">y</text></g>
<path d="M824,56.3L832.6,41.3L841.2,56.3Z" fill="#fde725"/>
<path d="M824,356.7L832.6,371.3L841.2,356.7Z" fill="#440154"/>
<rect x="824" y="323.56" width="17.2" height="33.74" fill="#481668"/>
<rect x="824" y="290.11" width="17.2" height="33.74" fill="#443983"/>
<rect x="824" y="256.67" width="17.2" height="33.74" fill="#375a8c"/>
<rect x="824" y="223.22" width="17.2" height="33.74" fill="#2b758e"/>
<rect x="824" y="189.78" width="17.2" height="33.74" fill="#21918c"/>
<rect x="824" y="156.33" width="17.2" height="33.74" fill="#25ab82"/>
<rect x="824" y="122.89" width="17.2" height="33.74" fill="#4ec36b"/>
<rect x="824" y="89.44" width="17.2" height="33.74" fill="#90d743"/>
<rect x="824" y="56.00" width="17.2" height="33.74" fill="#dae319"/>
<path d="M824,56L832.6,41.3L841.2,56L841.2,357L832.6,371.3L824,357Z" fill="none" stroke="#000" stroke-opacity="0.45" stroke-width="0.6"/>
<path d="M841.2,56h3" stroke="#7d7d7d" stroke-width="0.8"/>
<text x="845" y="62.4" font-family='"DejaVu Sans","Liberation Sans",sans-serif' font-size="17.2" fill="#1a1a1a">3</text>
<path d="M841.2,206.5h3" stroke="#7d7d7d" stroke-width="0.8"/>
<text x="845" y="212.9" font-family='"DejaVu Sans","Liberation Sans",sans-serif' font-size="17.2" fill="#1a1a1a">0</text>
<path d="M841.2,357h3" stroke="#7d7d7d" stroke-width="0.8"/>
<text x="845" y="363.4" font-family='"DejaVu Sans","Liberation Sans",sans-serif' font-size="17.2" fill="#1a1a1a">-3</text>
<text transform="translate(824.1,39.6) scale(0.93,1.0)" font-family='"Liberation Serif","DejaVu Serif",serif' font-size="25.5" font-weight="bold" stroke="#000" stroke-width="0.3">Ω</text>
<text transform="translate(824.9,23.8) scale(1.4,0.8)" font-family='"Liberation Serif","DejaVu Serif",serif' font-size="22" font-weight="bold" stroke="#000" stroke-width="0.8">~</text>
<text transform="translate(842.7,44.1) scale(1.3,1.0)" font-family='"Liberation Serif","DejaVu Serif",serif' font-size="16.5" font-weight="bold" font-style="italic" stroke="#000" stroke-width="0.3">zx</text>
<text transform="translate(842.7,32.5) scale(1.12,1.0)" font-family='"Liberation Serif","DejaVu Serif",serif' font-size="20" stroke="#000" stroke-width="0.3">+−</text>
</g>
<g id="panel-c">
<clipPath id="clip-c"><rect x="915.4" y="39.8" width="319.1" height="329.2"/></clipPath>
<g clip-path="url(#clip-c)">
<rect x="915.4" y="39.8" width="319.1" height="329.2" fill="#dddcdc"/>
<path fill="#4b64d5" stroke="#4b64d5" stroke-width="0.5" fill-rule="evenodd" d="M988.2,272.5 990.2,272.8 992.2,272.6 993.2,272.1 994.2,271.3 995,269.2 995.1,266.1 994.6,263 993.8,260 987.6,239.4 985.1,228.1 983.9,220.9 983.3,214.7 982.9,208.5 982.9,201.3 983.7,190 984.5,183.8 985.7,177.7 988.5,166.3 994.1,147.8 995.1,142.7 995,139.6 994.2,137.5 993.2,136.7 991.2,136.1 988.2,136.3 985.2,137.4 981.2,139.6 977.2,142.5 973.2,146.2 970,149.9 966.3,154.8 963.5,159.1 960.7,164.3 958.4,169.4 956.4,174.6 954.8,179.7 953.6,184.9 952.5,191 951.9,196.2 951.5,202.3 951.6,208.5 952,213.7 952.8,219.8 953.8,225 955.1,230.1 956.8,235.3 958.8,240.4 961.3,245.7 964.1,250.7 967.3,255.4 970.8,260 974.2,263.6 977.2,266.3 981.2,269.2 985.2,271.4ZM1119.8,240.5 1121.8,240.5 1123.8,240 1125.8,239 1127.8,237.6 1129.8,235.8 1131.8,233.5 1134.8,229.1 1136.4,226 1137.7,222.9 1139.4,217.8 1140.6,211.6 1141,205.4 1140.8,199.3 1139.8,192.7 1138.8,189 1137.8,186 1135.4,180.7 1132.8,176.6 1130.8,174.1 1128.8,172 1126.8,170.4 1124.8,169.2 1122.8,168.5 1120.8,168.2 1118.8,168.5 1116.8,169.7 1115.8,170.8 1114.8,172.3 1113.4,175.6 1112.1,180.7 1111,187.9 1110.1,196.2 1109.8,203.4 1110,210.6 1110.6,217.8 1111.7,226 1112.8,231.2 1114.2,235.3 1115.8,238 1116.8,239.1 1117.8,239.8Z"/>
<path fill="#6f92f3" stroke="#6f92f3" stroke-width="0.5" fill-rule="evenodd" d="M1002.2,298.1 1006.1,298.2 1009.1,298 1012.1,297.2 1014.1,296.3 1016.1,294.8 1017.4,292.9 1017.9,290.8 1017.9,288.8 1017.2,285.7 1015.4,281.6 1013.2,277.4 1004.4,263 1001,256.9 997,248.6 993.7,240.4 990.9,231.1 988.9,221.9 987.8,212.6 987.5,207.5 987.5,202.3 988.1,193.1 989.5,183.8 991.8,174.6 994.5,166.3 997.5,159.1 1000.5,153 1004.4,145.8 1014.9,128.3 1016.8,124.2 1017.7,121.1 1018,119 1017.7,117 1017.1,115.4 1016,113.9 1014.1,112.5 1012.1,111.6 1009.1,110.8 1006.1,110.6 1003.2,110.6 1000.2,111 994.2,112.4 988.2,114.6 981.2,118.2 975.2,122.2 969,127.2 963.3,132.9 957.7,139.6 952.7,146.8 948.5,154 945.1,161.2 942,169.4 939.6,177.7 937.9,185.9 936.9,194.1 936.4,202.3 936.6,210.6 937.3,218.8 938.7,227 940.7,235.3 943.5,243.5 946.5,250.7 950.2,257.9 954.7,265.1 959.3,271.3 964.7,277.4 970.2,282.6 976.8,287.7 983.2,291.7 989.2,294.6 993.2,296.1 996.2,297ZM987.6,272.3 984.2,270.9 980.2,268.6 977.1,266.1 973.2,262.6 970,258.9 966.8,254.8 964.1,250.7 961.2,245.6 958.8,240.4 956.8,235.3 955.1,230.1 953.8,225 952.8,219.8 952,213.7 951.6,208.5 951.5,202.3 951.9,196.2 952.5,191 953.6,184.9 954.8,179.7 956.4,174.6 958.4,169.4 960.7,164.3 963.5,159.1 966.3,154.8 970,149.9 973.2,146.2 977.2,142.5 981.2,139.6 985.2,137.4 988.2,136.3 991.2,136.1 993.2,136.7 994.2,137.5 995,139.6 995.1,142.7 994.6,145.8 993.8,148.8 987.6,169.4 985.9,176.6 984.9,181.8 983.8,189 983.2,195.1 982.9,201.3 982.9,208.5 983.8,219.8 984.7,226 985.7,231.1 988.5,242.5 994.1,261 995,265.1 995.2,268.2 994.7,270.2 994.2,271.3 993.2,272.1 991.2,272.7 989.2,272.7ZM1111.8,254.9 1114.8,254.9 1117.8,254.1 1120.8,252.9 1123.8,251.1 1126.8,248.9 1129.8,246.1 1132.8,242.7 1135.3,239.4 1137.8,235.4 1139.8,231.5 1141.6,227 1142.8,223.7 1143.8,219.8 1144.9,214.7 1145.5,209.5 1145.7,205.4 1145.6,201.3 1145.2,196.2 1144.5,192.1 1143.3,186.9 1141.8,182.1 1139.9,177.7 1137.8,173.5 1136,170.5 1133.8,167.3 1130.8,163.8 1127.8,160.8 1124.8,158.4 1121.8,156.5 1118.8,155 1115.8,154.1 1112.8,153.8 1109.9,154.3 1108.2,155 1106.8,156 1105.8,157.1 1104.4,159.1 1102.9,162.9 1101.4,169.4 1097.8,191 1096.9,198.2 1096.6,203.4 1096.8,209.5 1097.7,216.7 1101.4,239.4 1102.8,245.6 1103.9,248.6 1104.9,250.4 1105.9,251.8 1106.9,252.8 1108.9,254.1ZM1119.3,240.4 1117.2,239.4 1115.3,237.3 1113.8,234.4 1112.8,231.1 1111.6,225 1110.5,216.7 1109.9,209.5 1109.8,202.3 1110.2,195.1 1111.1,186.9 1112.1,180.7 1113.4,175.6 1114.8,172.3 1115.8,170.8 1116.8,169.7 1118.8,168.5 1120.8,168.2 1122.8,168.5 1124.8,169.2 1126.8,170.4 1128.8,172 1130.8,174.1 1132.8,176.6 1135.4,180.7 1137.8,186 1138.8,189 1139.8,192.7 1140.8,199.3 1141,205.4 1140.8,209.5 1140.4,212.6 1139.8,216.1 1138.8,219.8 1136.8,225.2 1133.8,230.8 1130.8,234.7 1128.8,236.8 1126.8,238.4 1124.8,239.6 1122.8,240.3 1120.8,240.6Z"/>
<path fill="#97b8ff" stroke="#97b8ff" stroke-width="0.5" fill-rule="evenodd" d="M1002.2,320.7 1006.1,321 1010.1,321.1 1017.1,320.5 1023.1,319.2 1026.1,318.2 1029.1,316.9 1031.6,315.5 1034.1,313.8 1036.1,312 1037.6,310.4 1039,308.3 1040,306.2 1040.5,304.2 1040.8,302.1 1040.6,300.1 1039.7,297 1038.8,294.9 1036.7,291.8 1033.3,287.7 1021.1,275.2 1015.1,268.4 1009.1,260.6 1004.2,252.8 999.9,244.5 996.6,236.3 993.8,227 992,217.8 991.3,211.6 991.1,204.4 991.3,197.2 992,191 993.3,183.8 994.9,177.7 996.9,171.5 999.4,165.3 1001.9,160.2 1004.2,156 1007.1,151.2 1010.1,146.8 1014.1,141.6 1018.1,136.9 1023.1,131.5 1032.3,122.1 1035.9,118 1038.2,114.9 1039.3,112.8 1040.1,110.8 1040.6,108.7 1040.8,106.7 1040.5,104.6 1040,102.6 1039.1,100.6 1036.7,97.4 1035.1,95.9 1033.1,94.3 1031.1,93 1028.1,91.5 1023.1,89.6 1017.1,88.3 1011.1,87.8 1007.1,87.8 1003.2,88 995.2,89.3 987.2,91.4 979.2,94.5 971.2,98.5 963.3,103.6 956.3,109 949.3,115.4 943.2,122.1 936.8,130.3 931.5,138.6 927.1,146.8 923,156 919.7,165.3 917.2,174.6 915.4,184.1 915.4,224.7 916.6,231.1 919.1,241.4 921.1,247.6 923,252.8 925.1,257.9 927.6,263 930.3,268.2 933.4,273.3 936.8,278.5 939.9,282.6 943.3,286.9 947.3,291.3 951.3,295.3 955.4,299 960.3,303 964.3,305.9 968.3,308.5 973.2,311.4 978.2,313.8 983.2,316 988.2,317.7 993.2,319.1 998.2,320.1ZM1001.7,298 998.2,297.4 995.2,296.7 989.2,294.6 982.2,291.2 976.2,287.3 970.2,282.6 964.7,277.4 959.3,271.3 954.7,265.1 950.2,257.9 946.5,250.7 943.5,243.5 940.7,235.3 938.7,227 937.3,218.8 936.6,210.6 936.4,201.3 937,193.1 938.1,184.9 939.9,176.6 942.4,168.4 945.6,160.2 949.1,153 953.3,145.8 957.7,139.6 963.3,132.9 969,127.2 975.2,122.2 981.2,118.2 988.2,114.6 994.2,112.4 1000.2,111 1003.2,110.6 1006.1,110.6 1009.1,110.8 1012.1,111.6 1014.1,112.5 1016,113.9 1017.1,115.4 1017.7,117 1018,119 1017.7,121.1 1016.8,124.2 1014.9,128.3 1004.4,145.8 1000.5,153 997.5,159.1 994.5,166.3 991.8,174.6 989.5,183.8 988.1,193.1 987.5,202.3 987.5,207.5 987.8,212.6 988.9,221.9 990.9,231.1 993.7,240.4 997,248.6 1001,256.9 1004.4,263 1013.2,277.4 1015.4,281.6 1017.2,285.7 1017.9,288.8 1017.9,290.8 1017.4,292.9 1016.1,294.8 1014.1,296.3 1012.1,297.2 1009.1,298 1005.1,298.2ZM1104.9,266.1 1108.9,265.8 1112.8,264.7 1116.8,263.1 1120.8,260.8 1124.8,258 1128.8,254.5 1132.8,250.3 1135.8,246.6 1138.8,242.1 1141.8,236.7 1143.8,232.2 1145.8,226.9 1147.4,220.9 1148.4,215.7 1149,210.6 1149.3,204.4 1149,198.2 1148.4,193.1 1147.4,187.9 1145.8,181.9 1143.8,176.6 1141.8,172.1 1138.8,166.7 1135.8,162.2 1132.8,158.5 1128.8,154.3 1124.8,150.8 1120.8,148 1116.8,145.7 1112.8,144.1 1108.9,143 1104.9,142.7 1102.9,142.8 1100.9,143.3 1097.9,144.7 1095.7,146.8 1093.8,149.9 1092.4,154 1091.5,158.1 1088.5,182.8 1087.7,187.9 1087,191 1085.8,194.1 1084.6,196.2 1082,199.3 1078.1,203.4 1077.7,204.4 1078.1,205.4 1082,209.5 1084.6,212.6 1085.8,214.7 1087,217.8 1087.7,220.9 1088.5,226 1091.5,250.7 1092.4,254.8 1093.8,258.9 1095.7,262 1097.9,264.1 1100.9,265.5 1102.9,266ZM1111,254.8 1109.9,254.5 1108.2,253.8 1106.9,252.8 1105.8,251.7 1103.9,248.6 1102.5,244.5 1101.2,238.3 1097.5,215.7 1096.8,208.5 1096.6,203.4 1096.9,198.2 1097.8,191 1101.4,169.4 1102.9,162.9 1104.4,159.1 1105.8,157.1 1106.8,156 1108.2,155 1109.9,154.3 1112.8,153.8 1115.8,154.1 1118.8,155 1121.8,156.5 1124.8,158.4 1127.8,160.8 1130.8,163.8 1133.8,167.3 1136,170.5 1137.8,173.5 1139.9,177.7 1141.8,182.1 1143.3,186.9 1144.5,192.1 1145.2,196.2 1145.6,201.3 1145.7,205.4 1145.5,209.5 1144.9,214.7 1143.8,219.8 1142.8,223.7 1141.2,228.1 1139.4,232.2 1137.2,236.3 1134.8,240.1 1131.8,243.9 1128.8,247.1 1125.8,249.7 1122.8,251.8 1119.8,253.3 1116.8,254.4 1113.8,255Z"/>
<path fill="#bcd2f7" stroke="#bcd2f7" stroke-width="0.5" fill-rule="evenodd" d="M985.2,366 993.2,366.2 1000.2,365.8 1007.1,364.8 1014.1,363.3 1021.1,361.2 1027.1,358.7 1033.1,355.6 1039.1,351.6 1044,347.6 1049,342.5 1053,337.5 1056.5,332 1059.5,325.8 1061.7,319.6 1063.1,313.4 1063.5,308.3 1063.4,304.2 1062.5,300.1 1061,297 1058.6,293.9 1056.3,291.8 1053.4,289.8 1037.1,280 1032.1,276.6 1027.1,272.8 1022.1,268.4 1017.1,263.3 1013.1,258.6 1009.1,253.2 1005.7,247.6 1003,242.5 1000.3,236.3 998.2,230.1 996.5,223.9 995.3,217.8 994.6,211.6 994.3,205.4 994.4,199.3 995,193.1 995.9,187.9 997.3,181.8 999.2,175.6 1001.1,170.5 1003.5,165.3 1006.3,160.2 1010.3,154 1015,147.8 1020.1,142.3 1025.1,137.7 1030.1,133.6 1036.1,129.4 1042,125.7 1051.7,120 1054.9,118 1057.5,115.9 1059.5,113.9 1061,111.8 1062.1,109.8 1062.8,107.7 1063.4,104.6 1063.6,101.5 1063.3,97.4 1062.9,94.3 1062,90.3 1060.7,86.1 1058.6,81 1056,76 1053,71.3 1050,67.5 1046,63.1 1042,59.5 1038.1,56.5 1033.1,53.2 1028.1,50.6 1023.1,48.4 1018.1,46.6 1012.1,45 1006.1,43.8 1000.2,43 994.2,42.7 989.2,42.7 983.2,43 973.2,44.3 963.3,46.5 953.3,49.7 943.3,53.9 933.3,59.1 924.4,64.7 915.4,71.4 915.4,184.1 916.6,177.7 918,171.5 919.7,165.3 921.8,159.1 923.8,154 926.6,147.8 929.8,141.6 932.8,136.5 936.1,131.4 939.9,126.2 944.1,121.1 948.3,116.4 952.3,112.5 957.3,108.2 962.3,104.3 967.3,100.9 972.2,98 978.2,95 984.2,92.5 990.2,90.5 996.2,89.1 1001.2,88.2 1007.1,87.8 1012.1,87.8 1017.1,88.3 1022.1,89.4 1027.1,91 1031.1,93 1034.5,95.4 1037.6,98.4 1039.5,101.5 1040.5,104.6 1040.8,106.7 1040.4,109.8 1039.3,112.8 1037.5,115.9 1033.3,121.1 1020.1,134.7 1013.1,142.9 1009.4,147.8 1006.7,151.9 1003.6,157.1 1001.4,161.2 999,166.3 996.9,171.5 995.2,176.6 993.8,181.8 992.7,186.9 991.9,192.1 991.3,197.2 991.1,202.3 991.2,208.5 991.6,214.7 992.5,220.9 993.6,226 994.9,231.1 996.9,237.3 999.4,243.5 1001.9,248.6 1004.8,253.8 1007.1,257.6 1013.1,265.9 1020.1,274.1 1031.4,285.7 1035.1,289.8 1038.2,293.9 1039.7,297 1040.4,299 1040.7,301.1 1040.7,303.2 1040.3,305.2 1039.5,307.3 1038.3,309.3 1035.6,312.4 1033.1,314.5 1029.1,316.9 1025.1,318.5 1021.1,319.7 1017.1,320.5 1012.1,321 1007.1,321 1002.2,320.7 997.2,319.9 992.2,318.8 987.2,317.4 982.2,315.6 977.2,313.4 972.2,310.8 967.3,307.9 962.3,304.5 957.9,301.1 953.3,297.2 949.3,293.4 945.3,289.1 941.5,284.6 938.3,280.5 934.7,275.4 931.5,270.2 928.6,265.1 926.1,260 923.8,254.8 921.4,248.6 919.7,243.5 918,237.3 916.6,231.1 915.4,224.7 915.4,337.4 923.4,343.4 932.4,349.1 941.3,354 949.3,357.5 958.3,360.8 967.3,363.3 976.2,365ZM1090.9,276.5 1092.9,276.9 1095.9,277 1100.9,276.5 1105.9,275.2 1111.8,272.8 1117.8,269.5 1122.8,266.1 1127.8,261.9 1132.8,256.9 1136.8,252 1140.8,246.2 1144,240.4 1146.8,234.2 1149,228.1 1150.8,220.9 1151.8,214.7 1152.4,207.5 1152.4,200.3 1151.8,194.1 1150.7,187.6 1149,180.7 1146.7,174.5 1143.8,167.9 1140.5,162.2 1136.8,156.8 1132.8,151.9 1127.8,146.9 1122.8,142.7 1117.8,139.3 1112.8,136.5 1106.9,133.9 1100.9,132.3 1095.9,131.8 1092.9,131.9 1090.9,132.3 1088.9,133 1086.9,134.2 1085.5,135.5 1084,137.5 1083,139.6 1082.3,141.6 1081.2,146.8 1080.6,153 1079.4,179.7 1078.9,186.9 1078.1,192.1 1075.7,202.3 1075.5,204.4 1075.7,206.5 1078.1,216.7 1078.9,221.9 1079.5,230.1 1080.5,254.8 1081.1,261 1081.8,265.1 1083,269.2 1083.9,271.1 1084.9,272.6 1086.6,274.4 1087.9,275.3ZM1104.7,266.1 1102.9,266 1100.9,265.5 1097.9,264.1 1095.7,262 1093.8,258.9 1092.4,254.8 1091.5,250.7 1088.5,226 1087.7,220.9 1087,217.8 1085.8,214.7 1084.6,212.6 1082,209.5 1078.1,205.4 1077.7,204.4 1078.1,203.4 1082,199.3 1084.6,196.2 1085.8,194.1 1087,191 1087.7,187.9 1088.5,182.8 1091.5,158.1 1092.4,154 1093.8,149.9 1095.7,146.8 1097.9,144.7 1100.9,143.3 1102.9,142.8 1104.9,142.7 1108.9,143 1112.8,144.1 1116.8,145.7 1120.8,148 1124.8,150.8 1128.8,154.3 1132.8,158.5 1135.8,162.2 1138.8,166.7 1141.8,172.1 1143.8,176.6 1145.8,181.9 1147.4,187.9 1148.4,193.1 1149,198.2 1149.3,204.4 1149,210.6 1148.4,215.7 1147.4,220.9 1145.8,226.9 1143.8,232.2 1141.8,236.7 1138.8,242.1 1135.8,246.6 1132.8,250.3 1128.8,254.5 1124.8,258 1120.8,260.8 1116.8,263.1 1112.8,264.7 1108.9,265.8Z"/>
<path fill="#f3c8b2" stroke="#f3c8b2" stroke-width="0.5" fill-rule="evenodd" d="M1151.7,365.9 1156.7,366.2 1161.7,366.1 1167.7,365.7 1172.7,365.2 1182.6,363.3 1187.6,362 1193.6,360.2 1198.6,358.3 1204.6,355.8 1214.6,350.8 1219.5,347.9 1224.5,344.7 1229.5,341.2 1234.5,337.4 1234.5,224.7 1233.3,231.1 1231.9,237.3 1230.2,243.5 1228.1,249.7 1226.1,254.8 1223.3,261 1220.1,267.2 1217.1,272.3 1213.8,277.4 1210,282.6 1205.8,287.7 1201.6,292.4 1197.6,296.3 1192.6,300.6 1187.6,304.5 1182.6,307.9 1177.7,310.8 1171.7,313.8 1166.7,316 1160.7,318 1155.7,319.3 1149.7,320.4 1143.8,321 1138.8,321 1133.8,320.6 1128.8,319.7 1123.8,318.2 1119.8,316.4 1115.8,313.8 1113.2,311.4 1110.9,308.3 1109.6,305.2 1109.1,302.1 1109.5,299 1110.6,296 1112.4,292.9 1116.6,287.7 1129.8,274.1 1136.8,265.9 1140.5,261 1143.2,256.9 1146.3,251.7 1148.5,247.6 1150.9,242.5 1153,237.3 1154.7,232.2 1156.1,227 1157.2,221.9 1158,216.7 1158.6,211.6 1158.8,206.5 1158.7,200.3 1158.3,194.1 1157.4,187.9 1156.3,182.8 1155,177.7 1153,171.5 1150.5,165.3 1148,160.2 1145.1,155 1142.8,151.2 1136.8,142.9 1129.8,134.7 1118.5,123.1 1114.8,119 1111.7,114.9 1110.2,111.8 1109.5,109.8 1109.2,107.7 1109.2,105.6 1109.6,103.6 1110.9,100.5 1112.3,98.4 1113.8,96.8 1116.8,94.3 1119.8,92.4 1123.8,90.6 1127.8,89.4 1131.8,88.5 1136.8,87.9 1141.8,87.7 1146.7,88 1151.7,88.7 1156.7,89.7 1162.7,91.4 1167.7,93.2 1172.7,95.4 1177.7,98 1182.6,100.9 1187.6,104.3 1192,107.7 1196.6,111.6 1200.6,115.4 1204.6,119.7 1208.4,124.2 1211.6,128.3 1215.2,133.4 1218.4,138.6 1221.3,143.7 1223.8,148.8 1226.1,154 1228.5,160.2 1230.2,165.3 1231.9,171.5 1233.3,177.7 1234.5,184.1 1234.5,71.4 1226.5,65.4 1217.5,59.7 1208.6,54.8 1199.6,50.9 1190.6,47.7 1180.7,45.1 1170.7,43.4 1161.7,42.7 1153.7,42.7 1146.7,43.4 1139.8,44.5 1132.8,46.3 1126.8,48.4 1120.8,51.1 1114.8,54.4 1109.9,57.9 1104.9,62.2 1100.9,66.3 1096.9,71.3 1093.4,76.8 1090.4,83 1088.2,89.2 1086.8,95.4 1086.4,100.5 1086.5,104.6 1087.4,108.7 1088.9,111.8 1091.3,114.9 1093.6,117 1096.5,119 1112.8,128.8 1117.8,132.2 1122.8,136 1127.8,140.4 1132.8,145.5 1136.8,150.2 1140.8,155.6 1144.2,161.2 1146.9,166.3 1149.6,172.5 1151.7,178.7 1153.4,184.9 1154.6,191 1155.3,197.2 1155.6,203.4 1155.5,209.5 1154.9,215.7 1154,220.9 1152.6,227 1150.7,233.2 1148.8,238.3 1146.4,243.5 1143.6,248.6 1139.6,254.8 1134.9,261 1129.8,266.5 1124.8,271.1 1119.8,275.2 1113.8,279.4 1107.9,283.1 1098.2,288.8 1095,290.8 1092.4,292.9 1090.4,294.9 1088.9,297 1087.8,299 1087.1,301.1 1086.5,304.2 1086.3,307.3 1086.5,310.4 1086.9,313.9 1087.7,317.6 1088.9,321.8 1090.9,327 1092.9,331 1095.9,336 1098.9,340.1 1101.9,343.6 1105.9,347.6 1109.9,350.9 1113.8,353.7 1118.8,356.7 1123.8,359.1 1128.8,361.2 1134.8,363.1 1139.8,364.3 1145.8,365.3ZM1049,276.5 1053,277 1056,277 1059,276.5 1061,275.8 1063,274.6 1065,272.6 1066.4,270.2 1067.3,268.2 1068.5,263 1069.2,256.9 1070.5,229.1 1071,221.9 1071.8,216.7 1074.2,206.5 1074.4,204.4 1074.2,202.3 1071.8,192.1 1071,186.9 1070.5,179.7 1069.3,153 1068.7,146.8 1067.9,142.7 1067,139.8 1066,137.7 1065,136.2 1063.3,134.4 1061.8,133.4 1060,132.6 1058,132.1 1055,131.8 1050,132.1 1045,133.3 1040,135.1 1034.1,138.1 1029.1,141.2 1024.1,145.1 1019.1,149.8 1015.1,154.2 1011.4,159.1 1008.1,164.3 1004.9,170.5 1002.3,176.6 1000.3,182.8 998.9,189 997.9,195.1 997.5,201.3 997.5,207.5 997.9,213.7 998.9,219.8 1000.3,226 1002.3,232.2 1004.9,238.3 1008.1,244.5 1011.1,249.2 1015.1,254.6 1019.1,259 1023.1,262.8 1028.1,266.8 1033.1,270.1 1038.1,272.8 1044,275.2ZM1044.1,266.1 1040,265.6 1036.1,264.4 1032.1,262.5 1028.1,260.2 1024.1,257.2 1020.1,253.5 1016.1,249.1 1013.1,245.2 1010.1,240.5 1007.4,235.3 1005.3,230.1 1003.5,225 1002.2,219.8 1001.3,214.7 1000.8,209.5 1000.6,203.4 1001,197.2 1001.7,192.1 1002.7,186.9 1004.2,181.8 1006.1,176.4 1008.4,171.5 1011.1,166.7 1014.1,162.2 1017.1,158.5 1021.1,154.3 1025.1,150.8 1029.1,148 1033.1,145.7 1037.1,144.1 1041,143 1045,142.7 1047,142.8 1049,143.3 1052,144.7 1054.2,146.8 1056.1,149.9 1057.5,154 1058.4,158.1 1061.4,182.8 1062.2,187.9 1062.9,191 1064.1,194.1 1065.3,196.2 1067.9,199.3 1071.8,203.4 1072.2,204.4 1071.8,205.4 1067.9,209.5 1065.3,212.6 1064.1,214.7 1062.9,217.8 1062.2,220.9 1061.4,226 1058.4,250.7 1057.5,254.8 1056.1,258.9 1055,260.9 1054,262.2 1053,263.2 1051,264.6 1048,265.8 1046,266.1Z"/>
<path fill="#f6a586" stroke="#f6a586" stroke-width="0.5" fill-rule="evenodd" d="M1134.8,320.7 1138.8,321 1142.8,321 1146.7,320.8 1150.7,320.3 1155.7,319.3 1159.7,318.3 1167.7,315.6 1175.7,311.9 1183.6,307.2 1187.6,304.5 1191.6,301.4 1199,294.9 1205.6,288 1211.6,280.5 1217.1,272.3 1222.3,263 1226.5,253.8 1229.9,244.5 1232.7,234.2 1234.5,224.7 1234.5,184.1 1233.1,176.6 1231.9,171.5 1230.2,165.3 1228.1,159.1 1226.1,154 1223.3,147.8 1220.7,142.7 1217.8,137.5 1214.5,132.4 1210.8,127.2 1207.6,123.1 1203.6,118.6 1199.6,114.4 1195.6,110.7 1190.7,106.7 1186.6,103.6 1181.6,100.3 1177.7,98 1172.7,95.4 1167.7,93.2 1162.7,91.4 1157.7,90 1152.7,88.9 1147.7,88.1 1142.8,87.8 1135.8,88 1129.8,88.9 1123.8,90.6 1118.8,93 1114.8,95.9 1113.2,97.4 1111.6,99.5 1109.9,102.8 1109.4,104.6 1109.1,106.7 1109.3,108.7 1110.2,111.8 1111.1,113.9 1113.2,117 1116.6,121.1 1128.8,133.6 1134.8,140.4 1140.8,148.2 1143.8,152.7 1146.3,157.1 1150.5,165.3 1152.2,169.4 1154,174.6 1156.6,183.8 1158.2,193.1 1158.7,200.3 1158.8,206.5 1158.4,213.7 1157.6,219.8 1156.3,226 1154.7,232.2 1152.6,238.3 1150,244.5 1147.7,249.1 1145.1,253.8 1141.9,258.9 1139,263 1134.8,268.4 1130.8,273 1117.6,286.7 1114,290.8 1111.7,293.9 1110.6,296 1109.8,298 1109.3,300.1 1109.1,302.1 1109.4,304.2 1110.4,307.3 1112.3,310.4 1115.4,313.4 1118.8,315.8 1123.8,318.2 1128.8,319.7ZM1141.1,298 1138.8,297.5 1136.8,296.8 1135.2,296 1133.8,294.8 1132.8,293.4 1132.2,291.8 1131.9,289.8 1132.2,287.7 1133.1,284.6 1135,280.5 1145.5,263 1149.4,255.8 1152.4,249.7 1155.4,242.5 1158.1,234.2 1160.4,225 1161.8,215.7 1162.4,206.5 1162.4,201.3 1162.1,196.2 1161,186.9 1159,177.7 1156.2,168.4 1153.3,161.2 1150,154 1145.5,145.8 1135,128.3 1133.1,124.2 1132.2,121.1 1131.9,119 1132.2,117 1133.1,114.9 1134.8,113.1 1136.8,112 1138.8,111.3 1141.8,110.7 1144.8,110.6 1147.7,110.7 1150.7,111.2 1153.7,111.8 1157.7,113.1 1164.5,115.9 1170.7,119.4 1176.7,123.7 1183.1,129.3 1188.6,135.1 1193.8,141.6 1198.5,148.8 1202.4,156 1206,164.3 1208.8,172.5 1211,180.7 1212.4,189 1213.3,197.2 1213.5,206.5 1212.9,215.7 1211.8,223.9 1210,232.2 1207.5,240.4 1204.3,248.6 1200.8,255.8 1196.6,263 1191.4,270.2 1185.6,277 1179.7,282.6 1173.7,287.3 1166.7,291.7 1159.7,295 1155.7,296.4 1152.7,297.2 1146.7,298.2 1143.8,298.2ZM1045,266.1 1047,266 1049,265.5 1052,264.1 1054.2,262 1056.1,258.9 1057.5,254.8 1058.4,250.7 1061.4,226 1062.2,220.9 1062.9,217.8 1064.1,214.7 1065.3,212.6 1067.9,209.5 1071.8,205.4 1072.2,204.4 1071.8,203.4 1067.9,199.3 1065.3,196.2 1064.1,194.1 1062.9,191 1062.2,187.9 1061.4,182.8 1058.4,158.1 1057.5,154 1056.1,149.9 1054.2,146.8 1052,144.7 1049,143.3 1047,142.8 1045,142.7 1041,143 1037.1,144.1 1033.1,145.7 1029.1,148 1025.1,150.8 1021.1,154.3 1017.1,158.5 1014.1,162.2 1011.1,166.7 1008.1,172.1 1006.1,176.6 1004.1,181.9 1002.5,187.9 1001.5,193.1 1000.9,198.2 1000.6,204.4 1000.9,210.6 1001.5,215.7 1002.5,220.9 1004.1,226.9 1006.1,232.2 1008.1,236.7 1011.1,242.1 1014.1,246.6 1017.1,250.3 1021.1,254.5 1025.1,258 1029.1,260.8 1033.1,263.1 1037.1,264.7 1041,265.8ZM1034.8,254.8 1032.1,254.1 1029.1,252.9 1026.1,251.1 1023.1,248.9 1020.1,246.1 1018.1,243.9 1015.3,240.4 1013.1,237.1 1011.1,233.5 1009.1,229.2 1007.5,225 1006.3,220.9 1005.4,216.7 1004.7,212.6 1004.3,207.5 1004.2,203.4 1004.4,199.3 1005,194.1 1005.8,190 1006.9,185.9 1008.3,181.8 1010.1,177.3 1012.1,173.4 1014.1,170.2 1016.1,167.3 1019.1,163.8 1022.1,160.8 1025.1,158.4 1028.1,156.5 1031.1,155 1034.1,154.1 1037.1,153.8 1040,154.3 1041.7,155 1043.1,156 1044.1,157.1 1045.5,159.1 1047,162.9 1048.5,169.4 1052.2,192.1 1053.1,199.3 1053.3,205.4 1053,210.6 1052.4,215.7 1048.9,237.3 1047.7,243.5 1046.4,247.6 1044.9,250.7 1043.1,252.8 1042,253.6 1041,254.1 1039.1,254.8 1037.1,255Z"/>
<path fill="#e7745b" stroke="#e7745b" stroke-width="0.5" fill-rule="evenodd" d="M1141.8,298.1 1144.8,298.2 1147.7,298.1 1153.7,297 1156.7,296.1 1160.7,294.6 1167.7,291.2 1174.6,286.7 1180.7,281.8 1186.1,276.4 1191.4,270.2 1196.6,263 1200.8,255.8 1204.3,248.6 1207.5,240.4 1210,232.2 1211.8,223.9 1212.9,215.7 1213.5,206.5 1213.3,197.2 1212.4,189 1211,180.7 1208.8,172.5 1206,164.3 1202.4,156 1198.5,148.8 1193.8,141.6 1188.6,135.1 1183.1,129.3 1176.7,123.7 1170.7,119.4 1164.5,115.9 1157.7,113.1 1153.7,111.8 1150.7,111.2 1147.7,110.7 1144.8,110.6 1141.8,110.7 1138.8,111.3 1136.8,112 1134.8,113.1 1133.1,114.9 1132.2,117 1131.9,119 1132.2,121.1 1133.1,124.2 1135,128.3 1145.5,145.8 1150,154 1153.3,161.2 1156.2,168.4 1159,177.7 1161,186.9 1162.1,196.2 1162.4,201.3 1162.4,206.5 1161.8,215.7 1160.4,225 1158.1,234.2 1155.4,242.5 1152.4,249.7 1149.4,255.8 1145.5,263 1135,280.5 1133.1,284.6 1132.2,287.7 1131.9,289.8 1132.2,291.8 1132.8,293.4 1133.8,294.8 1135.2,296 1137.1,297 1139.8,297.8ZM1157,272.3 1155.7,271.3 1154.9,269.2 1154.7,267.2 1154.9,265.1 1155.5,262 1156.7,257.9 1162,240.4 1164.2,231.1 1165.4,225 1166.2,218.8 1166.8,212.6 1167,206.5 1167,200.3 1166.5,193.1 1166,187.9 1164.8,180.7 1162.3,169.4 1156.1,148.8 1155.3,145.8 1154.8,142.7 1154.9,139.6 1155.7,137.5 1156.7,136.7 1157.7,136.2 1159.7,136 1162.7,136.6 1166.7,138.4 1170.7,141 1174,143.7 1177.7,147.3 1181.6,151.9 1184.6,156.3 1187.6,161.3 1190.2,166.3 1192.4,171.5 1194.2,176.6 1195.9,182.8 1196.9,187.9 1197.8,194.1 1198.3,200.3 1198.4,206.5 1198,212.6 1197.3,218.8 1196.1,225 1194.8,230.1 1192.8,236.3 1190.7,241.4 1188.1,246.6 1185.6,251 1182.3,255.8 1178.7,260.4 1174.7,264.5 1170.7,267.8 1166.7,270.4 1162.7,272.2 1159.7,272.8 1158.7,272.7ZM1035.1,254.9 1037.1,255 1039.1,254.8 1041,254.1 1042,253.6 1043.1,252.8 1044.9,250.7 1046,248.6 1046.8,246.6 1048.4,240.4 1052,218 1053,210.6 1053.3,205.4 1053.1,199.3 1052.2,192.1 1048.5,169.4 1047,162.9 1045.5,159.1 1044.1,157.1 1043.1,156 1041.7,155 1040,154.3 1037.1,153.8 1034.1,154.1 1031.1,155 1028.1,156.5 1025.1,158.4 1022.1,160.8 1019.1,163.8 1016.1,167.3 1014.1,170.2 1012.1,173.4 1010.1,177.3 1008.3,181.8 1006.9,185.9 1005.8,190 1005,194.1 1004.4,199.3 1004.2,203.4 1004.3,207.5 1004.7,212.6 1005.4,216.7 1006.3,220.9 1007.5,225 1009.1,229.2 1011.1,233.5 1013.1,237.1 1015.3,240.4 1018.1,243.9 1020.1,246.1 1023.1,248.9 1026.1,251.1 1029.1,252.9 1032.1,254.1ZM1027.5,240.4 1026.1,240 1024.1,239 1022.1,237.6 1020.1,235.8 1017.1,232.2 1014.1,227.3 1012.1,222.8 1011.1,219.8 1010.1,216.1 1009.1,209.5 1008.9,203.4 1009.3,197.2 1010.5,191 1012.2,185.9 1013.5,182.8 1015.1,179.7 1018.1,175.3 1020.1,173 1022.1,171.2 1024.1,169.8 1026.1,168.8 1028.1,168.3 1029.1,168.2 1030.6,168.4 1032.1,169 1033.8,170.5 1035.2,172.5 1036.8,176.6 1038.2,182.8 1039.3,191 1040,199.3 1040.1,206.5 1039.7,213.7 1038.6,222.9 1037.6,229.1 1036.1,234.2 1034.6,237.3 1032.7,239.4 1031.1,240.3 1030.1,240.5Z"/>
<path fill="#c83836" stroke="#c83836" stroke-width="0.5" fill-rule="evenodd" d="M1157.7,272.6 1158.7,272.7 1160.7,272.7 1163.7,271.8 1167.7,269.8 1171.7,267.1 1175.7,263.6 1179.1,260 1182.6,255.4 1185.8,250.7 1188.7,245.6 1191.1,240.4 1193.1,235.3 1195.1,229.1 1196.3,223.9 1197.4,217.8 1198.1,211.6 1198.4,205.4 1198.3,199.3 1197.8,194.1 1196.9,187.9 1195.9,182.8 1194.2,176.6 1192.4,171.5 1190.2,166.3 1187.6,161.2 1184.6,156.3 1181.6,151.9 1177.7,147.3 1174,143.7 1170.7,141 1166.7,138.4 1162.7,136.6 1159.7,136 1157.7,136.2 1156.7,136.7 1155.7,137.5 1154.9,139.6 1154.8,142.7 1155.3,145.8 1156.1,148.8 1162.3,169.4 1164.8,180.7 1166,187.9 1166.5,193.1 1167,200.3 1167,206.5 1166.8,212.6 1166.2,218.8 1165.4,225 1164.2,231.1 1162,240.4 1156.7,257.9 1155.5,262 1154.9,265.1 1154.7,268.2 1155.2,270.2 1155.7,271.3 1156.7,272.1ZM1028.1,240.5 1030.1,240.5 1031.1,240.3 1033.1,239.1 1034.1,238 1035.1,236.5 1036.5,233.2 1037.8,228.1 1038.9,220.9 1039.8,212.6 1040.1,205.4 1039.9,198.2 1039.2,190 1038.1,182.2 1036.8,176.6 1035.2,172.5 1033.8,170.5 1032.1,169 1030.6,168.4 1029.1,168.2 1028.1,168.3 1026.1,168.8 1024.1,169.8 1022.1,171.2 1020.1,173 1018.1,175.3 1015.1,179.7 1013.5,182.8 1012.2,185.9 1010.5,191 1009.3,197.2 1008.9,203.4 1009.1,209.5 1010.1,216.1 1011.1,219.8 1012.1,222.8 1014.1,227.3 1017.1,232.2 1019.1,234.7 1021.1,236.8 1023.1,238.4 1025.1,239.6Z"/>
</g>
<rect x="915.4" y="39.8" width="319.1" height="329.2" fill="none" stroke="#000" stroke-opacity="0.5" stroke-width="0.8"/>
<path d="M915.4,369v2.2" stroke="#7d7d7d" stroke-width="0.8"/>
<path d="M1075,369v2.2" stroke="#7d7d7d" stroke-width="0.8"/>
<path d="M1234.5,369v2.2" stroke="#7d7d7d" stroke-width="0.8"/>
<path d="M915.4,39.8h-2.2" stroke="#7d7d7d" stroke-width="0.8"/>
<path d="M915.4,204.4h-2.2" stroke="#7d7d7d" stroke-width="0.8"/>
<path d="M915.4,369h-2.2" stroke="#7d7d7d" stroke-width="0.8"/>
<text x="915.4" y="386.8" text-anchor="middle" font-family='"DejaVu Sans","Liberation Sans",sans-serif' font-size="17.2" fill="#1a1a1a">−2</text>
<text x="1075" y="386.8" text-anchor="middle" font-family='"DejaVu Sans","Liberation Sans",sans-serif' font-size="17.2" fill="#1a1a1a">0</text>
<text x="1234.5" y="386.8" text-anchor="middle" font-family='"DejaVu Sans","Liberation Sans",sans-serif' font-size="17.2" fill="#1a1a1a">2</text>
<text x="910.4" y="46" text-anchor="end" font-family='"DejaVu Sans","Liberation Sans",sans-serif' font-size="17.2" fill="#1a1a1a">2</text>
<text x="910.4" y="210.6" text-anchor="end" font-family='"DejaVu Sans","Liberation Sans",sans-serif' font-size="17.2" fill="#1a1a1a">0</text>
<text x="910.4" y="375.2" text-anchor="end" font-family='"DejaVu Sans","Liberation Sans",sans-serif' font-size="17.2" fill="#1a1a1a">−2</text>
<text x="931.5" y="26.1" font-family='"Liberation Sans","DejaVu Sans",sans-serif' font-size="26" font-weight="bold" stroke="#000" stroke-width="0.5">(c)</text>
<g transform="translate(1025.9,26.7)"><text transform="translate(-0.8,0) scale(1.25,1.0)" font-family='"Liberation Serif","DejaVu Serif",serif' font-size="29" font-weight="bold" font-style="italic" stroke="#000" stroke-width="0.35">k</text><text transform="translate(-1,-17.8) scale(1.15,0.68)" font-family='"Liberation Serif","DejaVu Serif",serif' font-size="29.0" font-weight="bold" stroke="#000" stroke-width="0.4">~</text><text transform="translate(17.4,5.5) scale(1.15,1.0)" font-family='"Liberation Serif","DejaVu Serif",serif' font-size="22.04" font-weight="bold" font-style="italic" stroke="#000" stroke-width="0.35">z</text></g>
<text transform="translate(1062.9,28.7) scale(1.27,1.0)" font-family='"Liberation Serif","DejaVu Serif",serif' font-size="29" font-weight="bold">=</text>
<text transform="translate(1092.9,26.7) scale(1.2,1.0)" font-family='"Liberation Serif","DejaVu Serif",serif' font-size="29" font-weight="bold">0</text>
<text transform="translate(1110.9,26.7) scale(0.75,0.75)" font-family='"Liberation Serif","DejaVu Serif",serif' font-size="29" font-weight="bold">.</text>
<text transform="translate(1121.4,26.7) scale(1.1,1.0)" font-family='"Liberation Serif","DejaVu Serif",serif' font-size="29" font-weight="bold">2</text>
<g transform="translate(1061.3,421.7)"><text transform="translate(-0.77,0) scale(1.25,1.0)" font-family='"Liberation Serif","DejaVu Serif",serif' font-size="28" font-weight="bold" font-style="italic" stroke="#000" stroke-width="0.35">k</text><text transform="translate(-0.97,-17.19) scale(1.15,0.68)" font-family='"Liberation Serif","DejaVu Serif",serif' font-size="28.0" font-weight="bold" stroke="#000" stroke-width="0.4">~</text><text transform="translate(16.8,6.08) scale(1.15,1.0)" font-family='"Liberation Serif","DejaVu Serif",serif' font-size="21.28" font-weight="bold" font-style="italic" stroke="#000" stroke-width="0.35">x</text></g>
<g transform="translate(884.5,218.3) rotate(-90)"><text transform="translate(-0.8,0) scale(1.25,1.0)" font-family='"Liberation Serif","DejaVu Serif",serif' font-size="29" font-weight="bold" font-style="italic" stroke="#000" stroke-width="0.35">k</text><text transform="translate(-1,-17.8) scale(1.15,0.68)" font-family='"Liberation Serif","DejaVu Serif",serif' font-size="29.0" font-weight="bold" stroke="#000" stroke-width="0.4">~</text><text transform="translate(17.4,4.1) scale(1.15,1.0)" font-family='"Liberation Serif","DejaVu Serif",serif' font-size="22.04" font-weight="bold" font-style="italic" stroke="#000" stroke-width="0.35">y</text></g>
<path d="M1242,54.3L1250,39.6L1258,54.3Z" fill="#b40426"/>
<path d="M1242,353.8L1250,368.4L1258,353.8Z" fill="#3b4cc0"/>
<rect x="1242" y="320.76" width="16" height="33.64" fill="#4b64d5"/>
<rect x="1242" y="287.41" width="16" height="33.64" fill="#6f92f3"/>
<rect x="1242" y="254.07" width="16" height="33.64" fill="#97b8ff"/>
<rect x="1242" y="220.72" width="16" height="33.64" fill="#bcd2f7"/>
<rect x="1242" y="187.38" width="16" height="33.64" fill="#dddcdc"/>
<rect x="1242" y="154.03" width="16" height="33.64" fill="#f3c8b2"/>
<rect x="1242" y="120.69" width="16" height="33.64" fill="#f6a586"/>
<rect x="1242" y="87.34" width="16" height="33.64" fill="#e7745b"/>
<rect x="1242" y="54.00" width="16" height="33.64" fill="#c83836"/>
<path d="M1242,54L1250,39.6L1258,54L1258,354.1L1250,368.4L1242,354.1Z" fill="none" stroke="#000" stroke-opacity="0.45" stroke-width="0.6"/>
<path d="M1258,58.1h3" stroke="#7d7d7d" stroke-width="0.8"/>
<text x="1261.8" y="64.5" font-family='"DejaVu Sans","Liberation Sans",sans-serif' font-size="17.2" fill="#1a1a1a">0.7</text>
<path d="M1258,204h3" stroke="#7d7d7d" stroke-width="0.8"/>
<text x="1261.8" y="210.4" font-family='"DejaVu Sans","Liberation Sans",sans-serif' font-size="17.2" fill="#1a1a1a">0.0</text>
<path d="M1258,350.4h3" stroke="#7d7d7d" stroke-width="0.8"/>
<text x="1261.8" y="356.8" font-family='"DejaVu Sans","Liberation Sans",sans-serif' font-size="17.2" fill="#1a1a1a">-0.7</text>
<text transform="translate(1235,33.1) scale(1.08,1.0)" font-family='"Liberation Serif","DejaVu Serif",serif' font-size="23" font-weight="bold" font-style="italic" stroke="#000" stroke-width="0.3">G</text>
<text transform="translate(1236,17.3) scale(1.4,0.8)" font-family='"Liberation Serif","DejaVu Serif",serif' font-size="22" font-weight="bold" stroke="#000" stroke-width="0.8">~</text>
<text transform="translate(1251.1,37.6) scale(1.3,1.0)" font-family='"Liberation Serif","DejaVu Serif",serif' font-size="16.5" font-weight="bold" font-style="italic" stroke="#000" stroke-width="0.3">zx</text>
<text transform="translate(1252.7,26) scale(1.12,1.0)" font-family='"Liberation Serif","DejaVu Serif",serif' font-size="20" stroke="#000" stroke-width="0.3">+−</text>
</g>
<g id="panel-d">
<clipPath id="clip-d"><rect x="1351.2" y="38.3" width="313.3" height="330.1"/></clipPath>
<g clip-path="url(#clip-d)">
<rect x="1351.2" y="38.3" width="313.3" height="330.1" fill="#21918c"/>
<path fill="#481668" stroke="#481668" stroke-width="0.5" fill-rule="evenodd" d="M1573.4,256 1576.4,255.6 1579.3,254.5 1582.3,252.8 1585,250.8 1587.3,248.7 1590.2,245.6 1593,241.9 1595.2,238.4 1596.9,235.3 1598.9,231 1600.8,226 1602,221.9 1602.9,217.8 1603.7,212.6 1604.1,208.5 1604.3,203.3 1604.1,198.2 1603.7,194.1 1602.9,188.9 1602,184.8 1600.8,180.7 1598.9,175.7 1596.9,171.4 1595.2,168.3 1593,164.8 1590.2,161.1 1587.3,158 1585,155.9 1582.3,153.9 1579.3,152.2 1576.4,151.1 1573.4,150.7 1571.5,150.9 1569.5,151.7 1568.1,152.8 1566.6,154.9 1565.8,156.9 1565.3,159 1565,162.1 1564.8,165.2 1565,171.4 1566.4,191 1566.8,202.3 1566.4,215.7 1564.9,238.4 1564.9,242.5 1565,245.6 1565.8,249.8 1566.6,251.7 1567.6,253.3 1568.6,254.3 1570.5,255.5 1571.5,255.8Z"/>
<path fill="#443983" stroke="#443983" stroke-width="0.5" fill-rule="evenodd" d="M1558.8,276.7 1562.7,277.4 1564.6,277.5 1567.6,277.2 1572.5,276.1 1575.4,275.1 1578.3,273.8 1583.2,271 1588.1,267.4 1593,263 1597.5,258 1601.4,252.9 1605.2,246.7 1608.3,240.5 1610.8,234.3 1612.8,228.1 1614.5,220.9 1615.5,214.7 1616.1,207.5 1616.2,200.3 1615.6,193 1614.7,186.8 1613.1,179.6 1610.8,172.4 1608.3,166.2 1605.2,160 1602.1,154.9 1598.4,149.7 1593.9,144.6 1589.1,140.1 1584.2,136.4 1579.3,133.4 1574.4,131.3 1569.5,129.8 1564.6,129.2 1560.7,129.5 1557.8,130.3 1554.8,131.8 1552.9,133.4 1550.9,136 1549.8,138.4 1549,141.5 1548.6,145.6 1548.7,149.7 1549.2,154.9 1552.6,175.5 1553.9,185.1 1554.6,194.1 1554.9,203.3 1554.7,211.6 1553.9,220.9 1552.6,231.2 1549.2,251.8 1548.7,257 1548.6,262.1 1549,265.1 1549.5,267.3 1550.2,269.4 1551.4,271.4 1552.9,273.3 1554.3,274.5 1555.9,275.6ZM1572.7,256 1571.5,255.8 1569.5,255 1568.6,254.3 1567.3,252.9 1566.2,250.8 1565.6,249 1565,244.6 1564.9,237.4 1566.4,215.7 1566.8,203.3 1566.5,192 1565,171.4 1564.8,165.2 1565,162.1 1565.3,159 1565.8,156.9 1566.6,154.9 1568.1,152.8 1569.5,151.7 1571.5,150.9 1573.4,150.7 1576.4,151.1 1579.3,152.2 1582.3,153.9 1585,155.9 1587.3,158 1590.2,161.1 1593,164.8 1595.2,168.3 1596.9,171.4 1598.9,175.7 1600.8,180.7 1602,184.8 1602.9,188.9 1603.7,194.1 1604.2,199.2 1604.3,204.4 1604.1,209.5 1603.6,213.7 1602.8,218.3 1601.7,222.9 1600.4,227.1 1598.8,231.2 1596.9,235.3 1594.6,239.5 1592.5,242.5 1590.1,245.7 1587.2,248.9 1584.2,251.4 1581.3,253.4 1578.3,254.9 1575.4,255.8Z"/>
<path fill="#375a8c" stroke="#375a8c" stroke-width="0.5" fill-rule="evenodd" d="M1553.9,296.3 1556.8,296.6 1560.7,296.7 1563.7,296.5 1567.6,295.9 1574.4,294.2 1581.3,291.5 1588.1,287.8 1595,283.1 1600.9,278.1 1606.7,272 1612.1,265.2 1616.9,258 1620.8,250.8 1624.4,242.5 1627.2,234.3 1629.5,225 1630.8,216.8 1631.6,207.5 1631.6,199.2 1630.8,189.9 1629.5,181.7 1627.2,172.4 1624.4,164.2 1620.8,155.9 1616.9,148.7 1612.1,141.5 1606.7,134.7 1600.9,128.6 1595,123.6 1588.1,118.9 1581.3,115.2 1574.4,112.5 1567.6,110.8 1563.7,110.2 1560.7,110 1554.8,110.3 1551.9,110.8 1549,111.6 1546.4,112.6 1544.1,113.7 1542.1,115 1540.2,116.6 1538.2,118.6 1536.5,120.8 1534.4,125 1533.6,127 1532.9,130.1 1532.3,135.3 1532.4,140.4 1533,146.6 1537.1,169.3 1538.5,179.6 1539.2,189.9 1539.5,202.3 1539.3,215.7 1538.6,226 1537.2,236.4 1533.8,254.9 1532.9,261.1 1532.3,268.3 1532.6,274.5 1533.3,278.7 1534.8,282.8 1536.5,285.9 1539.2,289.2 1542.1,291.7 1546,294 1549.9,295.4ZM1558.3,276.6 1555.9,275.6 1554.3,274.5 1552.9,273.3 1551.4,271.4 1550.2,269.4 1549.5,267.3 1549,265.1 1548.6,262.1 1548.7,257 1549.2,251.8 1552.6,231.2 1553.9,220.9 1554.7,211.6 1554.9,203.3 1554.7,195.1 1553.9,185.8 1552.6,175.5 1549.2,154.9 1548.7,149.7 1548.6,144.6 1549,141.5 1549.9,138 1551.4,135.3 1553.1,133.2 1555.8,131.2 1558.8,130 1561.7,129.4 1565.6,129.3 1570.5,130.1 1575.4,131.6 1580.3,134 1585.2,137 1590.1,140.9 1594.8,145.6 1598.9,150.4 1602.8,155.9 1606.3,162.1 1609.2,168.3 1611.6,174.5 1613.4,180.7 1614.9,187.9 1615.7,194.1 1616.2,200.3 1616.1,207.5 1615.5,214.7 1614.3,221.9 1612.5,229.1 1610.5,235.3 1607.9,241.5 1604.6,247.7 1600.9,253.6 1596.9,258.7 1592,264 1587.2,268.2 1582.3,271.6 1577.4,274.2 1572.5,276.1 1567.6,277.2 1564.6,277.5 1562.7,277.4 1560.7,277.2Z"/>
<path fill="#2b758e" stroke="#2b758e" stroke-width="0.5" fill-rule="evenodd" d="M1560.7,328.2 1568.6,328.2 1573.4,327.8 1577.4,327.2 1581.3,326.4 1586.2,325.1 1591.1,323.5 1595,321.9 1598.9,320.2 1603.8,317.7 1611.6,312.9 1619.5,307.2 1627.2,300.3 1634,293.1 1640.6,284.8 1646.1,276.6 1651.4,267.3 1655.2,259.1 1659.2,248.7 1662.2,238.4 1664.5,227.5 1664.5,179.2 1663.8,175.5 1662.2,168.3 1660.5,162.1 1658.5,155.9 1656.1,149.7 1653.4,143.5 1650.3,137.3 1647.4,132.2 1644.2,127 1640.6,121.9 1636.6,116.7 1632.2,111.6 1628.3,107.5 1623.9,103.3 1619.5,99.5 1614.6,95.8 1609.7,92.5 1604.8,89.6 1598.9,86.5 1594,84.4 1588.1,82.2 1583.2,80.8 1577.4,79.5 1572.5,78.8 1566.6,78.4 1562.7,78.4 1558.8,78.6 1551.9,79.7 1548,80.7 1545.1,81.7 1539.2,84.3 1536.2,86.1 1533.3,88.1 1530.4,90.7 1528.4,92.7 1526.5,95 1524.5,97.7 1521.4,103.3 1519.3,108.4 1517.7,114.6 1516.7,120.8 1516.1,128 1516,134.2 1516.2,141.5 1517.9,163.1 1518.3,170.3 1518.4,176.5 1518,182.7 1516.9,188.9 1515.3,194.1 1513.3,198.2 1510.8,201.8 1510.1,203.3 1510.8,204.9 1513.3,208.5 1515.3,212.6 1516.9,217.8 1518,224 1518.4,230.2 1518.3,236.4 1517.9,243.6 1516.2,265.2 1516,271.4 1516.1,277.6 1516.5,284.8 1517.5,291 1518.7,296.2 1520.5,301.3 1521.9,304.4 1523.5,307.5 1525.5,310.4 1527.2,312.7 1531.3,316.9 1536.2,320.6 1541.1,323.4 1547,325.7 1553.9,327.4ZM1553.3,296.2 1549,295.1 1545.1,293.5 1542.1,291.7 1539,289 1536.5,285.9 1534.8,282.8 1533.3,278.7 1532.6,274.5 1532.3,268.3 1532.9,261.1 1533.8,254.9 1537.2,236.4 1538.6,226 1539.3,215.7 1539.5,202.3 1539.2,189.9 1538.5,179.6 1537.1,169.3 1533,146.6 1532.4,140.4 1532.3,135.3 1532.9,130.1 1533.6,127 1534.4,125 1536.5,120.8 1538.2,118.6 1540.2,116.6 1542.6,114.6 1545.1,113.2 1547,112.3 1549.9,111.3 1552.9,110.6 1555.8,110.2 1561.7,110.1 1564.6,110.3 1568.6,110.9 1575.4,112.8 1582.3,115.7 1589.1,119.5 1596,124.4 1601.8,129.5 1607.7,135.8 1612.9,142.5 1617.5,149.7 1621.3,156.9 1624.8,165.2 1627.5,173.4 1629.7,182.7 1631,191 1631.6,199.2 1631.5,208.5 1630.7,217.8 1629.1,227.1 1626.9,235.3 1624,243.6 1620.3,251.8 1616.3,259.1 1611.4,266.3 1606.3,272.5 1600.3,278.7 1594,283.8 1587.2,288.4 1580.3,291.9 1573.4,294.5 1566.6,296.1 1562.7,296.6 1559.7,296.7 1556.8,296.6Z"/>
<path fill="#25ab82" stroke="#25ab82" stroke-width="0.5" fill-rule="evenodd" d="M1446.2,328.2 1454,328.3 1457.9,328 1461.8,327.4 1468.7,325.7 1472.6,324.2 1475.5,322.9 1478.5,321.2 1481.4,319.3 1484.4,316.9 1486.3,315.1 1488.5,312.7 1490.8,309.6 1492.7,306.5 1494.1,303.8 1496.4,298.3 1498,292.1 1499,285.9 1499.6,278.7 1499.7,272.5 1499.5,265.2 1497.8,243.6 1497.4,236.4 1497.3,230.2 1497.7,224 1498.8,217.8 1500.4,212.6 1502.4,208.5 1504.9,204.9 1505.6,203.3 1504.9,201.8 1502.4,198.2 1500.4,194.1 1498.8,188.9 1497.7,182.7 1497.3,176.5 1497.4,170.3 1497.8,163.1 1499.5,141.5 1499.7,135.3 1499.6,129.1 1499.2,121.9 1498.2,115.7 1497,110.5 1495.1,105.1 1492.2,99.2 1490.2,96.3 1488.5,94 1484.4,89.8 1479.5,86.1 1476.5,84.3 1473.6,82.9 1469.7,81.3 1466.7,80.4 1459.9,79 1453,78.4 1445.2,78.6 1441.3,79 1436.4,79.9 1431.5,81.1 1427.6,82.2 1422.7,84 1418.8,85.6 1414.8,87.5 1409.9,90.1 1402.1,95.1 1394.3,101.2 1387.5,107.4 1380.8,114.6 1375.1,121.9 1369.6,130.1 1364.3,139.4 1360.5,147.6 1356.5,158 1353.5,168.3 1351.2,179.2 1351.2,227.5 1351.7,230.2 1353,236.4 1354.6,242.5 1356.5,248.7 1358.8,254.9 1361.4,261.1 1363.8,266.3 1367.1,272.5 1370.2,277.6 1373.6,282.8 1377.4,287.9 1381.6,292.9 1385.5,297.2 1389.6,301.3 1394.3,305.5 1399.2,309.5 1404.1,312.9 1409,316 1413.9,318.7 1419.7,321.5 1424.6,323.5 1430.5,325.4 1435.4,326.6 1441.3,327.7ZM1449.7,296.2 1443.2,294.8 1436.4,292.4 1430.5,289.5 1423.7,285.3 1417.8,280.7 1411.9,275.2 1406.7,269.4 1401.4,262.1 1397,254.9 1393.4,247.7 1390.5,240.5 1387.9,232.2 1386,224 1384.7,215.7 1384.1,207.5 1384.2,198.2 1384.9,189.9 1386.2,181.7 1388.2,173.4 1390.9,165.2 1394.4,156.9 1398.2,149.7 1402.8,142.5 1407.6,136.3 1412.9,130.5 1418.8,125.2 1424.6,120.8 1431.5,116.7 1438.3,113.5 1445.2,111.4 1448.1,110.8 1452,110.2 1457.9,110 1462.8,110.6 1466.7,111.6 1470.6,113.2 1474.6,115.7 1477.7,118.8 1479.2,120.8 1480.4,122.9 1482.1,127 1483,131.1 1483.3,134.2 1483.4,137.3 1483,144.6 1481.9,151.8 1478.5,170.3 1477,181.7 1476.4,192 1476.2,205.4 1476.5,217.8 1477.3,228.1 1478.6,237.4 1482.7,260.1 1483.3,266.3 1483.4,271.4 1483.1,274.5 1482.6,277.6 1481.7,280.7 1480.4,283.8 1479.2,285.9 1477.5,288.1 1475.5,290.1 1473.6,291.7 1471.4,293.1 1468.7,294.4 1465.8,295.4 1462.8,296.1 1459.9,296.5 1456,296.7Z"/>
<path fill="#4ec36b" stroke="#4ec36b" stroke-width="0.5" fill-rule="evenodd" d="M1450.1,296.3 1454,296.6 1456.9,296.7 1459.9,296.5 1462.8,296.1 1465.8,295.4 1468.7,294.4 1471.4,293.1 1473.6,291.7 1475.5,290.1 1477.5,288.1 1479.2,285.9 1480.4,283.8 1481.7,280.7 1482.6,277.6 1483.1,274.5 1483.4,271.4 1483.3,266.3 1482.7,260.1 1478.6,237.4 1477.3,228.1 1476.5,217.8 1476.2,205.4 1476.4,192 1477,181.7 1478.5,170.3 1481.9,151.8 1483,144.6 1483.4,137.3 1483.3,134.2 1483,131.1 1482.1,127 1480.4,122.9 1479.2,120.8 1477.7,118.8 1474.6,115.7 1470.6,113.2 1466.7,111.6 1462.8,110.6 1457.9,110 1452,110.2 1448.1,110.8 1445.2,111.4 1438.3,113.5 1431.5,116.7 1424.6,120.8 1418.8,125.2 1412.9,130.5 1407,137 1402.1,143.5 1397.6,150.7 1393.9,158 1390.9,165.2 1388.2,173.4 1386.2,181.7 1384.9,189.9 1384.1,199.2 1384.1,207.5 1384.9,216.8 1386.2,225 1388.2,233.3 1390.9,241.5 1393.9,248.7 1397.6,256 1402.1,263.2 1406.7,269.4 1412.2,275.6 1417.8,280.7 1423.7,285.3 1430.5,289.5 1436.4,292.4 1443.2,294.8ZM1445,276.6 1440.3,275.1 1435.4,272.7 1430.5,269.7 1426.6,266.6 1422.7,263 1418.2,258 1414.3,252.9 1411.1,247.7 1408.3,242.5 1405.6,236.4 1403.5,230.2 1401.8,224 1400.6,217.8 1399.9,211.6 1399.5,205.4 1399.6,198.2 1400.3,191 1401.4,184.8 1402.9,178.6 1404.9,172.4 1407.4,166.2 1409.9,161.1 1412.9,155.9 1416.8,150.4 1420.7,145.7 1425,141.5 1429.5,137.8 1434.4,134.5 1439.3,132 1444.2,130.3 1449.1,129.4 1453,129.3 1456,129.7 1458.9,130.7 1460.9,131.8 1462.8,133.4 1464.3,135.3 1465.8,138 1466.5,140.4 1467,143.5 1467.1,148.7 1466.7,153.8 1463,176.5 1461.8,185.8 1461,195.1 1460.8,203.3 1461,211.6 1461.8,220.9 1463.1,231.2 1466.5,251.8 1467,257 1467.1,262.1 1466.5,266.3 1465.5,269.4 1463.6,272.5 1462.6,273.5 1460.9,274.9 1457.9,276.4 1454,277.3 1450.1,277.4Z"/>
<path fill="#90d743" stroke="#90d743" stroke-width="0.5" fill-rule="evenodd" d="M1445.2,276.6 1450.1,277.4 1454,277.3 1457.9,276.4 1460.9,274.9 1462.6,273.5 1463.6,272.5 1465.5,269.4 1466.5,266.3 1467.1,262.1 1467,257 1466.5,251.8 1463.1,231.2 1461.8,220.9 1461,211.6 1460.8,203.3 1461,195.1 1461.8,185.8 1463,176.5 1466.7,153.8 1467.1,148.7 1467,143.5 1466.5,140.4 1465.8,138 1464.3,135.3 1462.8,133.4 1460.9,131.8 1458.9,130.7 1456,129.7 1453,129.3 1449.1,129.4 1444.2,130.3 1439.3,132 1434.4,134.5 1429.5,137.8 1425,141.5 1420.7,145.7 1416.8,150.4 1412.9,155.9 1409.9,161.1 1407.4,166.2 1404.9,172.4 1402.9,178.6 1401.4,184.8 1400.3,191 1399.6,198.2 1399.5,205.4 1399.9,211.6 1400.6,217.8 1401.8,224 1403.5,230.2 1405.6,236.4 1408.3,242.5 1411.1,247.7 1414.3,252.9 1418.2,258 1422.7,263 1426.6,266.6 1430.5,269.7 1435.4,272.7 1440.3,275.1ZM1441.6,256 1439.3,255.6 1436.4,254.5 1433.4,252.8 1430.5,250.6 1427.6,247.9 1425.5,245.6 1422.7,241.9 1420.5,238.4 1418.8,235.3 1416.8,231 1414.9,226 1413.7,221.9 1412.8,217.8 1412,212.6 1411.6,208.5 1411.4,203.3 1411.6,198.2 1412,194.1 1412.8,188.9 1413.7,184.8 1414.9,180.7 1416.8,175.7 1418.8,171.4 1420.5,168.3 1422.7,164.8 1425.5,161.1 1428.4,158 1430.7,155.9 1433.4,153.9 1436.4,152.2 1439.3,151.1 1442.3,150.7 1444.2,150.9 1445.2,151.2 1447.1,152.4 1448.1,153.4 1449.1,155 1449.9,156.9 1450.7,161.1 1450.8,164.2 1450.8,168.3 1449.3,191 1448.9,204.4 1449.3,215.7 1450.7,235.3 1450.9,241.5 1450.7,245.6 1450.2,248.7 1449.5,250.8 1448.4,252.9 1447.1,254.3 1445.2,255.5 1443.2,255.9Z"/>
<path fill="#dae319" stroke="#dae319" stroke-width="0.5" fill-rule="evenodd" d="M1442.3,256 1444.2,255.8 1446.2,255 1447.6,253.9 1449.1,251.8 1449.9,249.8 1450.4,247.7 1450.7,244.6 1450.9,241.5 1450.7,235.3 1449.3,215.7 1448.9,204.4 1449.3,191 1450.8,168.3 1450.8,164.2 1450.7,161.1 1449.9,156.9 1449.1,155 1448.1,153.4 1447.1,152.4 1445.2,151.2 1444.2,150.9 1442.3,150.7 1439.3,151.1 1436.4,152.2 1433.4,153.9 1430.7,155.9 1428.4,158 1425.5,161.1 1422.7,164.8 1420.5,168.3 1418.8,171.4 1416.8,175.7 1414.9,180.7 1413.7,184.8 1412.8,188.9 1412,194.1 1411.6,198.2 1411.4,203.3 1411.6,208.5 1412,212.6 1412.8,217.8 1413.7,221.9 1414.9,226 1416.8,231 1418.8,235.3 1420.5,238.4 1422.7,241.9 1425.5,245.6 1428.4,248.7 1430.7,250.8 1433.4,252.8 1436.4,254.5 1439.3,255.6Z"/>
</g>
<rect x="1351.2" y="38.3" width="313.3" height="330.1" fill="none" stroke="#000" stroke-opacity="0.5" stroke-width="0.8"/>
<path d="M1351.2,368.4v2.2" stroke="#7d7d7d" stroke-width="0.8"/>
<path d="M1507.8,368.4v2.2" stroke="#7d7d7d" stroke-width="0.8"/>
<path d="M1664.5,368.4v2.2" stroke="#7d7d7d" stroke-width="0.8"/>
<path d="M1351.2,38.3h-2.2" stroke="#7d7d7d" stroke-width="0.8"/>
<path d="M1351.2,203.3h-2.2" stroke="#7d7d7d" stroke-width="0.8"/>
<path d="M1351.2,368.4h-2.2" stroke="#7d7d7d" stroke-width="0.8"/>
<text x="1351.2" y="386.2" text-anchor="middle" font-family='"DejaVu Sans","Liberation Sans",sans-serif' font-size="17.2" fill="#1a1a1a">−2</text>
<text x="1507.8" y="386.2" text-anchor="middle" font-family='"DejaVu Sans","Liberation Sans",sans-serif' font-size="17.2" fill="#1a1a1a">0</text>
<text x="1664.5" y="386.2" text-anchor="middle" font-family='"DejaVu Sans","Liberation Sans",sans-serif' font-size="17.2" fill="#1a1a1a">2</text>
<text x="1346.2" y="44.5" text-anchor="end" font-family='"DejaVu Sans","Liberation Sans",sans-serif' font-size="17.2" fill="#1a1a1a">2</text>
<text x="1346.2" y="209.5" text-anchor="end" font-family='"DejaVu Sans","Liberation Sans",sans-serif' font-size="17.2" fill="#1a1a1a">0</text>
<text x="1346.2" y="374.6" text-anchor="end" font-family='"DejaVu Sans","Liberation Sans",sans-serif' font-size="17.2" fill="#1a1a1a">−2</text>
<text x="1365.7" y="24.7" font-family='"Liberation Sans","DejaVu Sans",sans-serif' font-size="26" font-weight="bold" stroke="#000" stroke-width="0.5">(d)</text>
<g transform="translate(1466.5,25.2)"><text transform="translate(-0.8,0) scale(1.25,1.0)" font-family='"Liberation Serif","DejaVu Serif",serif' font-size="29" font-weight="bold" font-style="italic" stroke="#000" stroke-width="0.35">k</text><text transform="translate(-1,-17.8) scale(1.15,0.68)" font-family='"Liberation Serif","DejaVu Serif",serif' font-size="29.0" font-weight="bold" stroke="#000" stroke-width="0.4">~</text><text transform="translate(17.4,5.5) scale(1.15,1.0)" font-family='"Liberation Serif","DejaVu Serif",serif' font-size="22.04" font-weight="bold" font-style="italic" stroke="#000" stroke-width="0.35">z</text></g>
<text transform="translate(1503.5,27.2) scale(1.27,1.0)" font-family='"Liberation Serif","DejaVu Serif",serif' font-size="29" font-weight="bold">=</text>
<text transform="translate(1533.5,25.2) scale(1.2,1.0)" font-family='"Liberation Serif","DejaVu Serif",serif' font-size="29" font-weight="bold">0</text>
<text transform="translate(1551.5,25.2) scale(0.75,0.75)" font-family='"Liberation Serif","DejaVu Serif",serif' font-size="29" font-weight="bold">.</text>
<text transform="translate(1562,25.2) scale(1.1,1.0)" font-family='"Liberation Serif","DejaVu Serif",serif' font-size="29" font-weight="bold">2</text>
<g transform="translate(1493.8,421)"><text transform="translate(-0.77,0) scale(1.25,1.0)" font-family='"Liberation Serif","DejaVu Serif",serif' font-size="28" font-weight="bold" font-style="italic" stroke="#000" stroke-width="0.35">k</text><text transform="translate(-0.97,-17.19) scale(1.15,0.68)" font-family='"Liberation Serif","DejaVu Serif",serif' font-size="28.0" font-weight="bold" stroke="#000" stroke-width="0.4">~</text><text transform="translate(16.8,6.08) scale(1.15,1.0)" font-family='"Liberation Serif","DejaVu Serif",serif' font-size="21.28" font-weight="bold" font-style="italic" stroke="#000" stroke-width="0.35">x</text></g>
<g transform="translate(1320.5,218) rotate(-90)"><text transform="translate(-0.8,0) scale(1.25,1.0)" font-family='"Liberation Serif","DejaVu Serif",serif' font-size="29" font-weight="bold" font-style="italic" stroke="#000" stroke-width="0.35">k</text><text transform="translate(-1,-17.8) scale(1.15,0.68)" font-family='"Liberation Serif","DejaVu Serif",serif' font-size="29.0" font-weight="bold" stroke="#000" stroke-width="0.4">~</text><text transform="translate(17.4,4.1) scale(1.15,1.0)" font-family='"Liberation Serif","DejaVu Serif",serif' font-size="22.04" font-weight="bold" font-style="italic" stroke="#000" stroke-width="0.35">y</text></g>
<path d="M1672,52.9L1679.8,38.8L1687.5,52.9Z" fill="#fde725"/>
<path d="M1672,353.6L1679.8,368.2L1687.5,353.6Z" fill="#440154"/>
<rect x="1672" y="320.42" width="15.5" height="33.78" fill="#481668"/>
<rect x="1672" y="286.94" width="15.5" height="33.78" fill="#443983"/>
<rect x="1672" y="253.47" width="15.5" height="33.78" fill="#375a8c"/>
<rect x="1672" y="219.99" width="15.5" height="33.78" fill="#2b758e"/>
<rect x="1672" y="186.51" width="15.5" height="33.78" fill="#21918c"/>
<rect x="1672" y="153.03" width="15.5" height="33.78" fill="#25ab82"/>
<rect x="1672" y="119.56" width="15.5" height="33.78" fill="#4ec36b"/>
<rect x="1672" y="86.08" width="15.5" height="33.78" fill="#90d743"/>
<rect x="1672" y="52.60" width="15.5" height="33.78" fill="#dae319"/>
<path d="M1672,52.6L1679.8,38.8L1687.5,52.6L1687.5,353.9L1679.8,368.2L1672,353.9Z" fill="none" stroke="#000" stroke-opacity="0.45" stroke-width="0.6"/>
<path d="M1687.5,53.5h3" stroke="#7d7d7d" stroke-width="0.8"/>
<text x="1691.3" y="59.9" font-family='"DejaVu Sans","Liberation Sans",sans-serif' font-size="17.2" fill="#1a1a1a">0.7</text>
<path d="M1687.5,203.3h3" stroke="#7d7d7d" stroke-width="0.8"/>
<text x="1691.3" y="209.7" font-family='"DejaVu Sans","Liberation Sans",sans-serif' font-size="17.2" fill="#1a1a1a">0.0</text>
<path d="M1687.5,353.3h3" stroke="#7d7d7d" stroke-width="0.8"/>
<text x="1691.3" y="359.7" font-family='"DejaVu Sans","Liberation Sans",sans-serif' font-size="17.2" fill="#1a1a1a">-0.7</text>
<text transform="translate(1669.6,33.9) scale(0.93,1.0)" font-family='"Liberation Serif","DejaVu Serif",serif' font-size="25.5" font-weight="bold" stroke="#000" stroke-width="0.3">Ω</text>
<text transform="translate(1670.4,18.1) scale(1.4,0.8)" font-family='"Liberation Serif","DejaVu Serif",serif' font-size="22" font-weight="bold" stroke="#000" stroke-width="0.8">~</text>
<text transform="translate(1688.2,38.4) scale(1.3,1.0)" font-family='"Liberation Serif","DejaVu Serif",serif' font-size="16.5" font-weight="bold" font-style="italic" stroke="#000" stroke-width="0.3">zx</text>
<text transform="translate(1688.2,26.8) scale(1.12,1.0)" font-family='"Liberation Serif","DejaVu Serif",serif' font-size="20" stroke="#000" stroke-width="0.3">+−</text>
</g>
</svg>
</body></html>
